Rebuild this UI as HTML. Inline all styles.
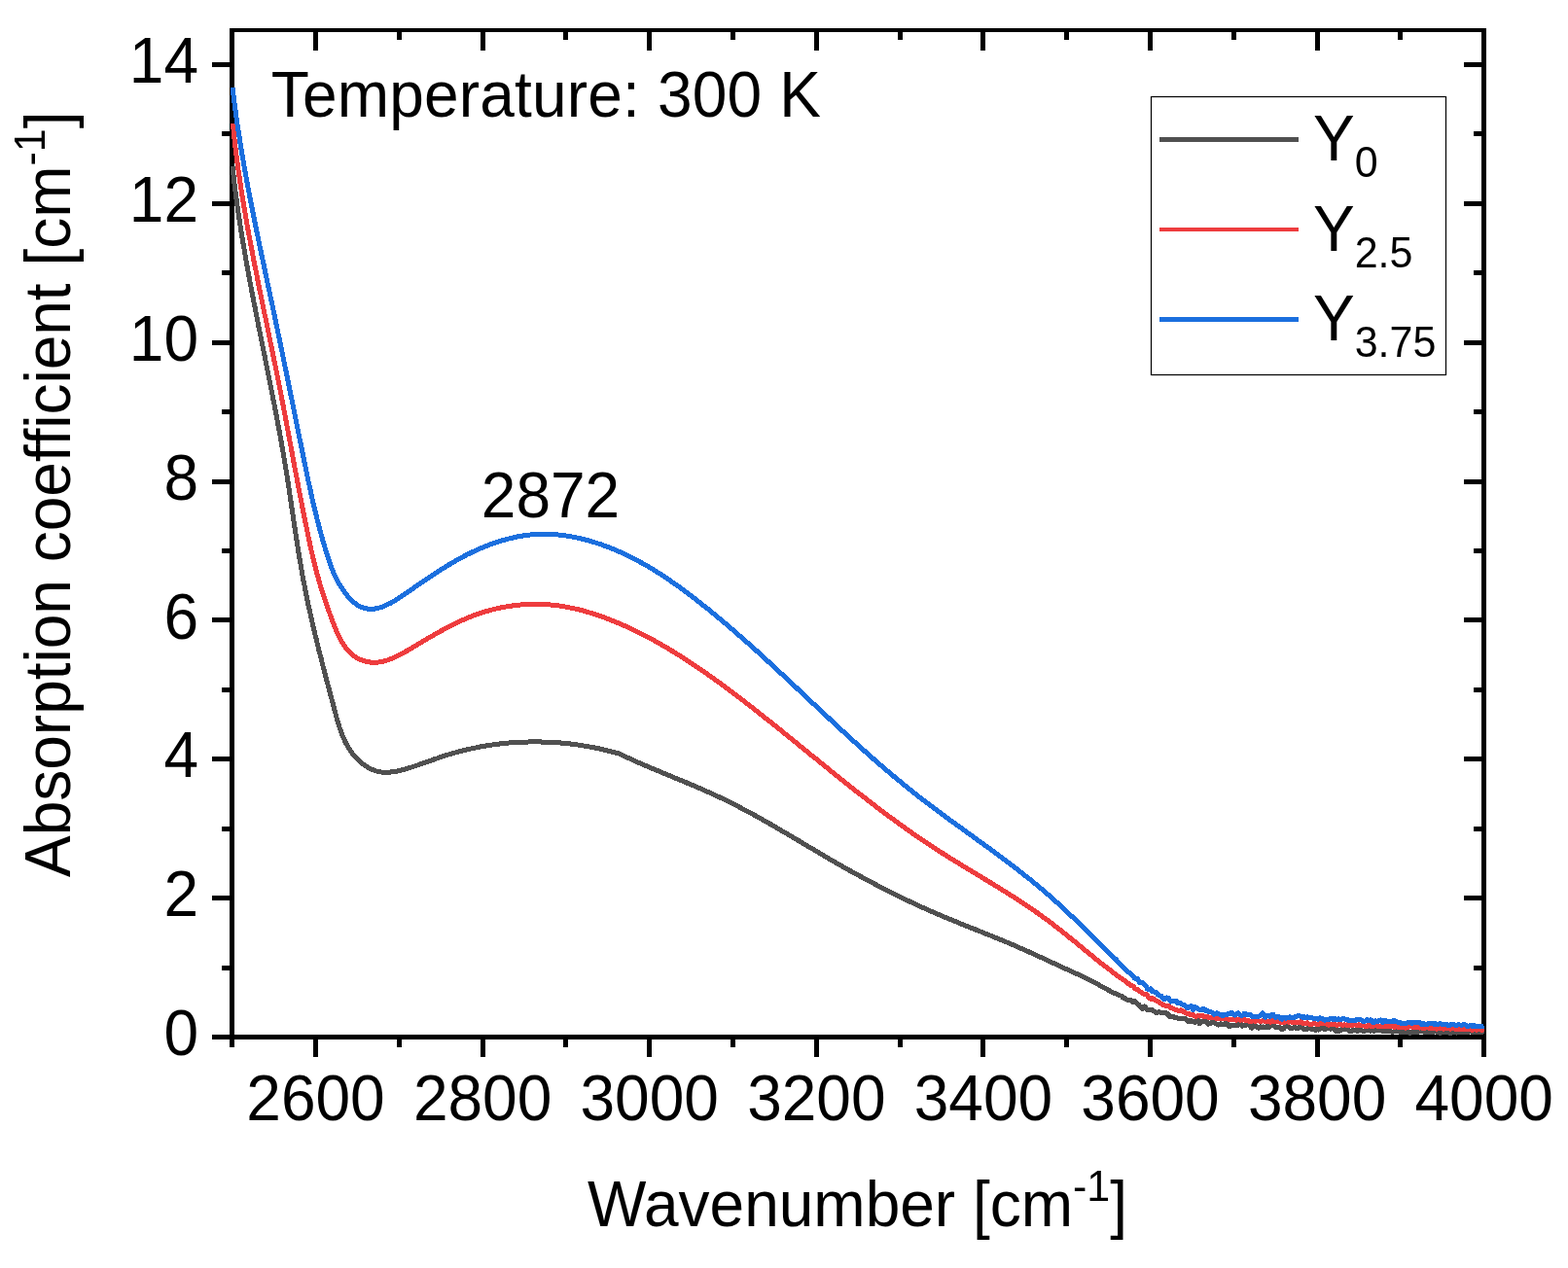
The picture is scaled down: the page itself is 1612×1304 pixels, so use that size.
<!DOCTYPE html>
<html><head><meta charset="utf-8"><title>Absorption coefficient</title>
<style>html,body{margin:0;padding:0;background:#fff;width:1612px;height:1304px;overflow:hidden}</style>
</head><body>
<svg width="1612" height="1304" viewBox="0 0 1612 1304" style="display:block;font-family:'Liberation Sans',Arial,sans-serif">
<rect width="1612" height="1304" fill="#fff"/>
<g><rect x="236.0" y="29.0" width="1292.0" height="4.0" fill="#000"/><rect x="236.0" y="1064.0" width="1292.0" height="5.0" fill="#000"/><rect x="236.0" y="29.0" width="5.0" height="1040.0" fill="#000"/><rect x="1523.0" y="29.0" width="5.0" height="1040.0" fill="#000"/><rect x="236.0" y="1069.0" width="5.0" height="8.0" fill="#000"/><rect x="236.0" y="33.0" width="5.0" height="8.0" fill="#000"/><rect x="322.0" y="1069.0" width="5.0" height="18.0" fill="#000"/><rect x="322.0" y="33.0" width="5.0" height="19.0" fill="#000"/><rect x="408.0" y="1069.0" width="5.0" height="8.0" fill="#000"/><rect x="408.0" y="33.0" width="5.0" height="8.0" fill="#000"/><rect x="494.0" y="1069.0" width="5.0" height="18.0" fill="#000"/><rect x="494.0" y="33.0" width="5.0" height="19.0" fill="#000"/><rect x="579.0" y="1069.0" width="5.0" height="8.0" fill="#000"/><rect x="579.0" y="33.0" width="5.0" height="8.0" fill="#000"/><rect x="665.0" y="1069.0" width="5.0" height="18.0" fill="#000"/><rect x="665.0" y="33.0" width="5.0" height="19.0" fill="#000"/><rect x="751.0" y="1069.0" width="5.0" height="8.0" fill="#000"/><rect x="751.0" y="33.0" width="5.0" height="8.0" fill="#000"/><rect x="837.0" y="1069.0" width="5.0" height="18.0" fill="#000"/><rect x="837.0" y="33.0" width="5.0" height="19.0" fill="#000"/><rect x="923.0" y="1069.0" width="5.0" height="8.0" fill="#000"/><rect x="923.0" y="33.0" width="5.0" height="8.0" fill="#000"/><rect x="1008.0" y="1069.0" width="5.0" height="18.0" fill="#000"/><rect x="1008.0" y="33.0" width="5.0" height="19.0" fill="#000"/><rect x="1094.0" y="1069.0" width="5.0" height="8.0" fill="#000"/><rect x="1094.0" y="33.0" width="5.0" height="8.0" fill="#000"/><rect x="1180.0" y="1069.0" width="5.0" height="18.0" fill="#000"/><rect x="1180.0" y="33.0" width="5.0" height="19.0" fill="#000"/><rect x="1266.0" y="1069.0" width="5.0" height="8.0" fill="#000"/><rect x="1266.0" y="33.0" width="5.0" height="8.0" fill="#000"/><rect x="1352.0" y="1069.0" width="5.0" height="18.0" fill="#000"/><rect x="1352.0" y="33.0" width="5.0" height="19.0" fill="#000"/><rect x="1437.0" y="1069.0" width="5.0" height="8.0" fill="#000"/><rect x="1437.0" y="33.0" width="5.0" height="8.0" fill="#000"/><rect x="1523.0" y="1069.0" width="5.0" height="18.0" fill="#000"/><rect x="1523.0" y="33.0" width="5.0" height="19.0" fill="#000"/><rect x="218.0" y="1064.0" width="18.0" height="5.0" fill="#000"/><rect x="1505.0" y="1064.0" width="18.0" height="5.0" fill="#000"/><rect x="228.0" y="993.0" width="8.0" height="5.0" fill="#000"/><rect x="1515.0" y="993.0" width="8.0" height="5.0" fill="#000"/><rect x="218.0" y="921.0" width="18.0" height="5.0" fill="#000"/><rect x="1505.0" y="921.0" width="18.0" height="5.0" fill="#000"/><rect x="228.0" y="850.0" width="8.0" height="5.0" fill="#000"/><rect x="1515.0" y="850.0" width="8.0" height="5.0" fill="#000"/><rect x="218.0" y="778.0" width="18.0" height="5.0" fill="#000"/><rect x="1505.0" y="778.0" width="18.0" height="5.0" fill="#000"/><rect x="228.0" y="707.0" width="8.0" height="5.0" fill="#000"/><rect x="1515.0" y="707.0" width="8.0" height="5.0" fill="#000"/><rect x="218.0" y="635.0" width="18.0" height="5.0" fill="#000"/><rect x="1505.0" y="635.0" width="18.0" height="5.0" fill="#000"/><rect x="228.0" y="564.0" width="8.0" height="5.0" fill="#000"/><rect x="1515.0" y="564.0" width="8.0" height="5.0" fill="#000"/><rect x="218.0" y="493.0" width="18.0" height="5.0" fill="#000"/><rect x="1505.0" y="493.0" width="18.0" height="5.0" fill="#000"/><rect x="228.0" y="421.0" width="8.0" height="5.0" fill="#000"/><rect x="1515.0" y="421.0" width="8.0" height="5.0" fill="#000"/><rect x="218.0" y="350.0" width="18.0" height="5.0" fill="#000"/><rect x="1505.0" y="350.0" width="18.0" height="5.0" fill="#000"/><rect x="228.0" y="278.0" width="8.0" height="5.0" fill="#000"/><rect x="1515.0" y="278.0" width="8.0" height="5.0" fill="#000"/><rect x="218.0" y="207.0" width="18.0" height="5.0" fill="#000"/><rect x="1505.0" y="207.0" width="18.0" height="5.0" fill="#000"/><rect x="228.0" y="135.0" width="8.0" height="5.0" fill="#000"/><rect x="1515.0" y="135.0" width="8.0" height="5.0" fill="#000"/><rect x="218.0" y="64.0" width="18.0" height="5.0" fill="#000"/><rect x="1505.0" y="64.0" width="18.0" height="5.0" fill="#000"/></g>
<g><path d="M239.0,171.0 L239.1,172.0 L239.2,173.0 L239.4,174.0 L239.5,175.0 L239.6,176.0 L239.7,177.0 L239.8,178.0 L239.9,179.0 L240.0,180.0 L240.1,181.0 L240.2,182.0 L240.3,183.0 L240.5,184.0 L240.6,185.0 L240.7,185.9 L240.8,186.9 L240.9,187.9 L241.0,188.9 L241.2,189.9 L241.3,190.9 L241.4,191.9 L241.5,192.9 L241.7,193.9 L241.8,194.9 L241.9,195.9 L242.0,196.9 L242.2,197.9 L242.3,198.9 L242.4,199.9 L242.5,200.9 L242.7,201.9 L242.8,202.8 L242.9,203.8 L243.1,204.8 L243.2,205.8 L243.3,206.8 L243.5,207.8 L243.6,208.8 L243.7,209.8 L243.9,210.8 L244.0,211.8 L244.2,212.8 L244.3,213.8 L244.4,214.7 L244.6,215.7 L244.7,216.7 L244.9,217.7 L245.0,218.7 L245.2,219.7 L245.3,220.7 L245.5,221.7 L245.6,222.7 L245.7,223.7 L245.9,224.6 L246.0,225.6 L246.2,226.6 L246.3,227.6 L246.5,228.6 L246.6,229.6 L246.8,230.6 L246.9,231.6 L247.1,232.6 L247.3,233.5 L247.4,234.5 L247.6,235.5 L247.7,236.5 L247.9,237.5 L248.0,238.5 L248.2,239.5 L248.4,240.5 L248.5,241.4 L248.7,242.4 L248.8,243.4 L249.0,244.4 L249.2,245.4 L249.3,246.4 L249.5,247.4 L249.6,248.3 L249.8,249.3 L250.0,250.3 L250.1,251.3 L250.3,252.3 L250.5,253.3 L250.6,254.3 L250.8,255.2 L251.0,256.2 L251.1,257.2 L251.3,258.2 L251.5,259.2 L251.7,260.2 L251.8,261.2 L252.0,262.1 L252.2,263.1 L252.3,264.1 L252.5,265.1 L252.7,266.1 L252.9,267.1 L253.0,268.1 L253.2,269.0 L253.4,270.0 L253.6,271.0 L253.7,272.0 L253.9,273.0 L254.1,274.0 L254.3,274.9 L254.4,275.9 L254.6,276.9 L254.8,277.9 L255.0,278.9 L255.2,279.9 L255.3,280.8 L255.5,281.8 L255.7,282.8 L255.9,283.8 L256.1,284.8 L256.2,285.8 L256.4,286.7 L256.6,287.7 L256.8,288.7 L257.0,289.7 L257.2,290.7 L257.3,291.6 L257.5,292.6 L257.7,293.6 L257.9,294.6 L258.1,295.6 L258.3,296.6 L258.5,297.5 L258.6,298.5 L258.8,299.5 L259.0,300.5 L259.2,301.5 L259.4,302.4 L259.6,303.4 L259.8,304.4 L260.0,305.4 L260.2,306.4 L260.3,307.4 L260.5,308.3 L260.7,309.3 L260.9,310.3 L261.1,311.3 L261.3,312.3 L261.5,313.2 L261.7,314.2 L261.9,315.2 L262.1,316.2 L262.3,317.2 L262.4,318.1 L262.6,319.1 L262.8,320.1 L263.0,321.1 L263.2,322.1 L263.4,323.0 L263.6,324.0 L263.8,325.0 L264.0,326.0 L264.2,327.0 L264.4,327.9 L264.6,328.9 L264.8,329.9 L265.0,330.9 L265.2,331.9 L265.4,332.9 L265.5,333.8 L265.7,334.8 L265.9,335.8 L266.1,336.8 L266.3,337.8 L266.5,338.7 L266.7,339.7 L266.9,340.7 L267.1,341.7 L267.3,342.7 L267.5,343.6 L267.7,344.6 L267.9,345.6 L268.1,346.6 L268.3,347.6 L268.5,348.5 L268.7,349.5 L268.9,350.5 L269.1,351.5 L269.3,352.5 L269.5,353.4 L269.7,354.4 L269.9,355.4 L270.1,356.4 L270.3,357.4 L270.5,358.3 L270.7,359.3 L270.9,360.3 L271.1,361.3 L271.3,362.3 L271.5,363.2 L271.7,364.2 L271.9,365.2 L272.1,366.2 L272.2,367.2 L272.4,368.1 L272.6,369.1 L272.8,370.1 L273.0,371.1 L273.2,372.1 L273.4,373.0 L273.6,374.0 L273.8,375.0 L274.0,376.0 L274.2,377.0 L274.4,377.9 L274.6,378.9 L274.8,379.9 L275.0,380.9 L275.2,381.9 L275.4,382.8 L275.6,383.8 L275.8,384.8 L276.0,385.8 L276.2,386.8 L276.4,387.7 L276.6,388.7 L276.8,389.7 L277.0,390.7 L277.2,391.7 L277.4,392.6 L277.6,393.6 L277.8,394.6 L277.9,395.6 L278.1,396.6 L278.3,397.5 L278.5,398.5 L278.7,399.5 L278.9,400.5 L279.1,401.5 L279.3,402.5 L279.5,403.4 L279.7,404.4 L279.9,405.4 L280.1,406.4 L280.3,407.4 L280.5,408.3 L280.7,409.3 L280.8,410.3 L281.0,411.3 L281.2,412.3 L281.4,413.3 L281.6,414.2 L281.8,415.2 L282.0,416.2 L282.2,417.2 L282.4,418.2 L282.6,419.1 L282.8,420.1 L282.9,421.1 L283.1,422.1 L283.3,423.1 L283.5,424.1 L283.7,425.0 L283.9,426.0 L284.1,427.0 L284.3,428.0 L284.4,429.0 L284.6,430.0 L284.8,430.9 L285.0,431.9 L285.2,432.9 L285.4,433.9 L285.6,434.9 L285.7,435.9 L285.9,436.8 L286.1,437.8 L286.3,438.8 L286.5,439.8 L286.6,440.8 L286.8,441.8 L287.0,442.7 L287.2,443.7 L287.4,444.7 L287.6,445.7 L287.7,446.7 L287.9,447.7 L288.1,448.6 L288.3,449.6 L288.4,450.6 L288.6,451.6 L288.8,452.6 L289.0,453.6 L289.2,454.6 L289.3,455.5 L289.5,456.5 L289.7,457.5 L289.9,458.5 L290.0,459.5 L290.2,460.5 L290.4,461.5 L290.5,462.4 L290.7,463.4 L290.9,464.4 L291.1,465.4 L291.2,466.4 L291.4,467.4 L291.6,468.4 L291.7,469.4 L291.9,470.3 L292.1,471.3 L292.2,472.3 L292.4,473.3 L292.6,474.3 L292.7,475.3 L292.9,476.3 L293.1,477.3 L293.2,478.2 L293.4,479.2 L293.5,480.2 L293.7,481.2 L293.9,482.2 L294.0,483.2 L294.2,484.2 L294.3,485.2 L294.5,486.2 L294.7,487.1 L294.8,488.1 L295.0,489.1 L295.1,490.1 L295.3,491.1 L295.4,492.1 L295.6,493.1 L295.8,494.1 L295.9,495.1 L296.1,496.1 L296.2,497.0 L296.4,498.0 L296.5,499.0 L296.7,500.0 L296.8,501.0 L297.0,502.0 L297.1,503.0 L297.3,504.0 L297.4,505.0 L297.6,506.0 L297.7,506.9 L297.9,507.9 L298.0,508.9 L298.2,509.9 L298.3,510.9 L298.5,511.9 L298.6,512.9 L298.8,513.9 L298.9,514.9 L299.1,515.9 L299.2,516.9 L299.4,517.9 L299.5,518.8 L299.6,519.8 L299.8,520.8 L299.9,521.8 L300.1,522.8 L300.2,523.8 L300.4,524.8 L300.5,525.8 L300.7,526.8 L300.8,527.8 L301.0,528.8 L301.1,529.7 L301.3,530.7 L301.4,531.7 L301.6,532.7 L301.7,533.7 L301.9,534.7 L302.0,535.7 L302.1,536.7 L302.3,537.7 L302.4,538.7 L302.6,539.7 L302.7,540.6 L302.9,541.6 L303.0,542.6 L303.2,543.6 L303.3,544.6 L303.5,545.6 L303.6,546.6 L303.8,547.6 L303.9,548.6 L304.1,549.6 L304.2,550.5 L304.4,551.5 L304.5,552.5 L304.7,553.5 L304.8,554.5 L305.0,555.5 L305.1,556.5 L305.3,557.5 L305.5,558.5 L305.6,559.4 L305.8,560.4 L305.9,561.4 L306.1,562.4 L306.2,563.4 L306.4,564.4 L306.5,565.4 L306.7,566.4 L306.9,567.3 L307.0,568.3 L307.2,569.3 L307.3,570.3 L307.5,571.3 L307.7,572.3 L307.8,573.3 L308.0,574.3 L308.1,575.2 L308.3,576.2 L308.5,577.2 L308.6,578.2 L308.8,579.2 L309.0,580.2 L309.1,581.1 L309.3,582.1 L309.5,583.1 L309.7,584.1 L309.8,585.1 L310.0,586.1 L310.2,587.0 L310.3,588.0 L310.5,589.0 L310.7,590.0 L310.9,591.0 L311.0,592.0 L311.2,592.9 L311.4,593.9 L311.6,594.9 L311.8,595.9 L311.9,596.9 L312.1,597.8 L312.3,598.8 L312.5,599.8 L312.7,600.8 L312.9,601.7 L313.1,602.7 L313.2,603.7 L313.4,604.7 L313.6,605.7 L313.8,606.6 L314.0,607.6 L314.2,608.6 L314.4,609.6 L314.6,610.5 L314.8,611.5 L315.0,612.5 L315.2,613.5 L315.4,614.4 L315.6,615.4 L315.8,616.4 L316.0,617.4 L316.2,618.3 L316.4,619.3 L316.6,620.3 L316.8,621.3 L317.0,622.2 L317.2,623.2 L317.5,624.2 L317.7,625.1 L317.9,626.1 L318.1,627.1 L318.3,628.1 L318.5,629.0 L318.7,630.0 L319.0,631.0 L319.2,631.9 L319.4,632.9 L319.6,633.9 L319.8,634.9 L320.0,635.8 L320.3,636.8 L320.5,637.8 L320.7,638.7 L320.9,639.7 L321.2,640.7 L321.4,641.6 L321.6,642.6 L321.8,643.6 L322.1,644.6 L322.3,645.5 L322.5,646.5 L322.7,647.5 L323.0,648.4 L323.2,649.4 L323.4,650.4 L323.7,651.3 L323.9,652.3 L324.1,653.3 L324.4,654.2 L324.6,655.2 L324.8,656.2 L325.1,657.1 L325.3,658.1 L325.5,659.1 L325.8,660.1 L326.0,661.0 L326.3,662.0 L326.5,663.0 L326.7,663.9 L327.0,664.9 L327.2,665.9 L327.5,666.8 L327.7,667.8 L327.9,668.8 L328.2,669.7 L328.4,670.7 L328.7,671.7 L328.9,672.6 L329.2,673.6 L329.4,674.6 L329.7,675.5 L329.9,676.5 L330.2,677.5 L330.4,678.5 L330.6,679.4 L330.9,680.4 L331.1,681.4 L331.4,682.3 L331.6,683.3 L331.9,684.3 L332.1,685.2 L332.4,686.2 L332.6,687.2 L332.9,688.2 L333.1,689.1 L333.4,690.1 L333.7,691.1 L333.9,692.0 L334.2,693.0 L334.4,694.0 L334.7,694.9 L334.9,695.9 L335.2,696.9 L335.4,697.9 L335.7,698.8 L335.9,699.8 L336.2,700.8 L336.4,701.7 L336.7,702.7 L337.0,703.7 L337.2,704.7 L337.5,705.6 L337.7,706.6 L338.0,707.6 L338.2,708.6 L338.5,709.5 L338.8,710.5 L339.0,711.5 L339.3,712.5 L339.5,713.4 L339.8,714.4 L340.0,715.4 L340.3,716.4 L340.6,717.3 L340.8,718.3 L341.1,719.3 L341.3,720.3 L341.6,721.3 L341.9,722.2 L342.1,723.2 L342.4,724.2 L342.6,725.2 L342.9,726.1 L343.2,727.1 L343.4,728.1 L343.7,729.1 L343.9,730.1 L344.2,731.1 L344.5,732.0 L344.7,733.0 L345.0,734.0 L345.2,735.0 L345.5,736.0 L345.8,736.9 L346.0,737.9 L346.3,738.9 L346.6,739.9 L346.9,740.8 L347.1,741.8 L347.4,742.8 L347.7,743.8 L348.0,744.7 L348.3,745.7 L348.6,746.7 L348.9,747.6 L349.2,748.6 L349.5,749.6 L349.9,750.5 L350.2,751.5 L350.5,752.4 L350.9,753.4 L351.2,754.3 L351.6,755.2 L352.0,756.2 L352.3,757.1 L352.7,758.0 L353.1,758.9 L353.5,759.9 L354.0,760.8 L354.4,761.7 L354.8,762.6 L355.3,763.5 L355.7,764.4 L356.2,765.3 L356.7,766.2 L357.2,767.0 L357.7,767.9 L358.2,768.8 L358.7,769.6 L359.3,770.5 L359.8,771.3 L360.4,772.2 L361.0,773.0 L361.6,773.8 L362.2,774.6 L362.8,775.4 L363.4,776.2 L364.0,777.0 L364.7,777.7 L365.4,778.5 L366.0,779.2 L366.7,780.0 L367.4,780.7 L368.1,781.4 L368.8,782.1 L369.5,782.8 L370.3,783.4 L371.0,784.1 L371.7,784.7 L372.5,785.3 L373.3,785.9 L374.1,786.5 L374.8,787.1 L375.6,787.6 L376.4,788.1 L377.2,788.6 L378.1,789.1 L378.9,789.6 L379.7,790.1 L380.6,790.5 L381.4,790.9 L382.3,791.3 L383.1,791.6 L384.0,792.0 L384.9,792.3 L385.8,792.6 L386.7,792.9 L387.6,793.1 L388.5,793.4 L389.4,793.6 L390.3,793.7 L391.2,793.9 L392.2,794.0 L393.1,794.1 L394.0,794.2 L395.0,794.2 L395.9,794.3 L396.9,794.3 L397.8,794.3 L398.8,794.2 L399.8,794.2 L400.7,794.1 L401.7,794.0 L402.7,793.9 L403.6,793.8 L404.6,793.7 L405.6,793.5 L406.6,793.4 L407.6,793.2 L408.6,793.0 L409.6,792.8 L410.6,792.6 L411.5,792.3 L412.5,792.1 L413.5,791.8 L414.5,791.6 L415.5,791.3 L416.5,791.0 L417.5,790.7 L418.5,790.4 L419.5,790.1 L420.5,789.8 L421.5,789.5 L422.5,789.2 L423.4,788.9 L424.4,788.5 L425.4,788.2 L426.4,787.9 L427.4,787.5 L428.4,787.2 L429.3,786.9 L430.3,786.5 L431.3,786.2 L432.2,785.9 L433.2,785.5 L434.2,785.2 L435.1,784.9 L436.1,784.5 L437.0,784.2 L438.0,783.8 L438.9,783.5 L439.9,783.2 L440.8,782.8 L441.8,782.5 L442.7,782.2 L443.7,781.8 L444.6,781.5 L445.6,781.2 L446.5,780.8 L447.5,780.5 L448.4,780.2 L449.4,779.9 L450.3,779.5 L451.3,779.2 L452.2,778.9 L453.2,778.6 L454.1,778.3 L455.1,777.9 L456.0,777.6 L456.9,777.3 L457.9,777.0 L458.8,776.7 L459.8,776.4 L460.7,776.1 L461.7,775.8 L462.7,775.5 L463.6,775.3 L464.6,775.0 L465.5,774.7 L466.5,774.4 L467.4,774.2 L468.4,773.9 L469.4,773.6 L470.3,773.4 L471.3,773.1 L472.2,772.8 L473.2,772.6 L474.2,772.3 L475.1,772.1 L476.1,771.9 L477.1,771.6 L478.0,771.4 L479.0,771.1 L480.0,770.9 L481.0,770.7 L481.9,770.5 L482.9,770.2 L483.9,770.0 L484.9,769.8 L485.8,769.6 L486.8,769.4 L487.8,769.2 L488.8,769.0 L489.7,768.8 L490.7,768.6 L491.7,768.4 L492.7,768.2 L493.7,768.0 L494.6,767.9 L495.6,767.7 L496.6,767.5 L497.6,767.3 L498.6,767.2 L499.6,767.0 L500.6,766.8 L501.5,766.7 L502.5,766.5 L503.5,766.4 L504.5,766.2 L505.5,766.1 L506.5,765.9 L507.5,765.8 L508.5,765.7 L509.5,765.5 L510.4,765.4 L511.4,765.3 L512.4,765.2 L513.4,765.0 L514.4,764.9 L515.4,764.8 L516.4,764.7 L517.4,764.6 L518.4,764.5 L519.4,764.4 L520.4,764.3 L521.4,764.2 L522.4,764.1 L523.4,764.0 L524.4,763.9 L525.4,763.9 L526.4,763.8 L527.4,763.7 L528.4,763.6 L529.4,763.6 L530.4,763.5 L531.4,763.4 L532.4,763.4 L533.4,763.3 L534.4,763.3 L535.4,763.2 L536.4,763.2 L537.4,763.1 L538.4,763.1 L539.4,763.1 L540.4,763.0 L541.4,763.0 L542.4,763.0 L543.4,763.0 L544.4,762.9 L545.4,762.9 L546.4,762.9 L547.4,762.9 L548.4,762.9 L549.4,762.9 L550.4,762.9 L551.4,762.9 L552.4,762.9 L553.4,762.9 L554.4,762.9 L555.4,762.9 L556.4,763.0 L557.4,763.0 L558.4,763.0 L559.4,763.0 L560.4,763.1 L561.4,763.1 L562.4,763.1 L563.4,763.2 L564.4,763.2 L565.4,763.3 L566.4,763.3 L567.4,763.4 L568.4,763.4 L569.4,763.5 L570.4,763.6 L571.4,763.6 L572.4,763.7 L573.4,763.8 L574.4,763.9 L575.4,763.9 L576.4,764.0 L577.4,764.1 L578.3,764.2 L579.3,764.3 L580.3,764.4 L581.3,764.5 L582.3,764.6 L583.3,764.7 L584.3,764.8 L585.3,764.9 L586.3,765.0 L587.3,765.1 L588.3,765.3 L589.3,765.4 L590.3,765.5 L591.3,765.6 L592.3,765.8 L593.3,765.9 L594.2,766.0 L595.2,766.2 L596.2,766.3 L597.2,766.5 L598.2,766.6 L599.2,766.8 L600.2,767.0 L601.2,767.1 L602.1,767.3 L603.1,767.4 L604.1,767.6 L605.1,767.8 L606.1,768.0 L607.1,768.2 L608.0,768.3 L609.0,768.5 L610.0,768.7 L611.0,768.9 L612.0,769.1 L612.9,769.3 L613.9,769.5 L614.9,769.7 L615.9,769.9 L616.8,770.1 L617.8,770.4 L618.8,770.6 L619.8,770.8 L620.7,771.0 L621.7,771.2 L622.7,771.5 L623.6,771.7 L624.6,772.0 L625.6,772.2 L626.5,772.4 L627.5,772.7 L628.5,772.9 L629.4,773.2 L630.4,773.4 L631.4,773.7 L632.3,774.0 L633.3,774.2 L634.2,774.5 L635.2,774.8 L636.2,774.9 L637.1,775.4 L638.0,775.8 L638.9,776.2 L639.8,776.6 L640.7,777.1 L641.6,777.5 L642.5,777.9 L643.4,778.3 L644.3,778.8 L645.2,779.2 L646.1,779.6 L647.0,780.0 L648.0,780.4 L648.9,780.8 L649.8,781.3 L650.7,781.7 L651.6,782.1 L652.5,782.5 L653.4,782.9 L654.3,783.3 L655.2,783.7 L656.1,784.1 L657.1,784.5 L658.0,784.9 L658.9,785.3 L659.8,785.7 L660.7,786.1 L661.6,786.5 L662.6,786.9 L663.5,787.3 L664.4,787.7 L665.3,788.1 L666.2,788.5 L667.2,788.9 L668.1,789.3 L669.0,789.6 L669.9,790.0 L670.8,790.4 L671.8,790.8 L672.7,791.2 L673.6,791.6 L674.5,792.0 L675.5,792.4 L676.4,792.7 L677.3,793.1 L678.2,793.5 L679.2,793.9 L680.1,794.3 L681.0,794.7 L681.9,795.1 L682.9,795.4 L683.8,795.8 L684.7,796.2 L685.6,796.6 L686.6,797.0 L687.5,797.3 L688.4,797.7 L689.3,798.1 L690.3,798.5 L691.2,798.9 L692.1,799.3 L693.0,799.6 L694.0,800.0 L694.9,800.4 L695.8,800.8 L696.7,801.2 L697.7,801.6 L698.6,801.9 L699.5,802.3 L700.5,802.7 L701.4,803.1 L702.3,803.5 L703.2,803.9 L704.2,804.2 L705.1,804.6 L706.0,805.0 L706.9,805.4 L707.9,805.8 L708.8,806.2 L709.7,806.6 L710.6,807.0 L711.5,807.3 L712.5,807.7 L713.4,808.1 L714.3,808.5 L715.2,808.9 L716.2,809.3 L717.1,809.7 L718.0,810.1 L718.9,810.5 L719.8,810.9 L720.7,811.3 L721.7,811.7 L722.6,812.1 L723.5,812.5 L724.4,812.9 L725.3,813.3 L726.2,813.7 L727.2,814.1 L728.1,814.5 L729.0,814.9 L729.9,815.3 L730.8,815.8 L731.7,816.2 L732.6,816.6 L733.5,817.0 L734.5,817.4 L735.4,817.8 L736.3,818.3 L737.2,818.7 L738.1,819.1 L739.0,819.5 L739.9,820.0 L740.8,820.4 L741.7,820.8 L742.6,821.2 L743.5,821.7 L744.4,822.1 L745.3,822.6 L746.2,823.0 L747.1,823.4 L748.0,823.9 L748.9,824.3 L749.8,824.8 L750.7,825.2 L751.6,825.7 L752.5,826.1 L753.3,826.6 L754.2,827.0 L755.1,827.5 L756.0,827.9 L756.9,828.4 L757.8,828.8 L758.7,829.3 L759.6,829.7 L760.4,830.2 L761.3,830.7 L762.2,831.1 L763.1,831.6 L764.0,832.1 L764.9,832.5 L765.7,833.0 L766.6,833.5 L767.5,833.9 L768.4,834.4 L769.3,834.9 L770.1,835.4 L771.0,835.8 L771.9,836.3 L772.8,836.8 L773.7,837.3 L774.5,837.8 L775.4,838.2 L776.3,838.7 L777.2,839.2 L778.0,839.7 L778.9,840.2 L779.8,840.7 L780.7,841.1 L781.5,841.6 L782.4,842.1 L783.3,842.6 L784.1,843.1 L785.0,843.6 L785.9,844.1 L786.7,844.6 L787.6,845.1 L788.5,845.6 L789.4,846.1 L790.2,846.6 L791.1,847.0 L792.0,847.5 L792.8,848.0 L793.7,848.5 L794.6,849.0 L795.4,849.5 L796.3,850.0 L797.1,850.5 L798.0,851.0 L798.9,851.5 L799.7,852.0 L800.6,852.6 L801.5,853.1 L802.3,853.6 L803.2,854.1 L804.1,854.6 L804.9,855.1 L805.8,855.6 L806.6,856.1 L807.5,856.6 L808.4,857.1 L809.2,857.6 L810.1,858.1 L810.9,858.6 L811.8,859.1 L812.7,859.6 L813.5,860.2 L814.4,860.7 L815.3,861.2 L816.1,861.7 L817.0,862.2 L817.8,862.7 L818.7,863.2 L819.6,863.7 L820.4,864.2 L821.3,864.7 L822.1,865.3 L823.0,865.8 L823.9,866.3 L824.7,866.8 L825.6,867.3 L826.4,867.8 L827.3,868.3 L828.2,868.8 L829.0,869.3 L829.9,869.9 L830.7,870.4 L831.6,870.9 L832.4,871.4 L833.3,871.9 L834.2,872.4 L835.0,872.9 L835.9,873.4 L836.8,873.9 L837.6,874.5 L838.5,875.0 L839.3,875.5 L840.2,876.0 L841.1,876.5 L841.9,877.0 L842.8,877.5 L843.6,878.0 L844.5,878.5 L845.4,879.0 L846.2,879.5 L847.1,880.0 L847.9,880.6 L848.8,881.1 L849.7,881.6 L850.5,882.1 L851.4,882.6 L852.3,883.1 L853.1,883.6 L854.0,884.1 L854.9,884.6 L855.7,885.1 L856.6,885.6 L857.5,886.1 L858.3,886.6 L859.2,887.1 L860.1,887.6 L860.9,888.1 L861.8,888.6 L862.7,889.1 L863.5,889.6 L864.4,890.1 L865.3,890.6 L866.1,891.1 L867.0,891.6 L867.9,892.1 L868.7,892.5 L869.6,893.0 L870.5,893.5 L871.3,894.0 L872.2,894.5 L873.1,895.0 L874.0,895.5 L874.8,896.0 L875.7,896.5 L876.6,896.9 L877.5,897.4 L878.3,897.9 L879.2,898.4 L880.1,898.9 L881.0,899.4 L881.8,899.8 L882.7,900.3 L883.6,900.8 L884.5,901.3 L885.3,901.7 L886.2,902.2 L887.1,902.7 L888.0,903.2 L888.9,903.6 L889.7,904.1 L890.6,904.6 L891.5,905.1 L892.4,905.5 L893.3,906.0 L894.2,906.5 L895.0,906.9 L895.9,907.4 L896.8,907.9 L897.7,908.3 L898.6,908.8 L899.5,909.3 L900.3,909.7 L901.2,910.2 L902.1,910.7 L903.0,911.1 L903.9,911.6 L904.8,912.0 L905.7,912.5 L906.5,912.9 L907.4,913.4 L908.3,913.9 L909.2,914.3 L910.1,914.8 L911.0,915.2 L911.9,915.7 L912.8,916.1 L913.7,916.6 L914.6,917.0 L915.5,917.5 L916.3,917.9 L917.2,918.4 L918.1,918.8 L919.0,919.3 L919.9,919.7 L920.8,920.1 L921.7,920.6 L922.6,921.0 L923.5,921.5 L924.4,921.9 L925.3,922.3 L926.2,922.8 L927.1,923.2 L928.0,923.6 L928.9,924.1 L929.8,924.5 L930.7,924.9 L931.6,925.4 L932.5,925.8 L933.4,926.2 L934.3,926.7 L935.2,927.1 L936.1,927.5 L937.0,927.9 L937.9,928.4 L938.8,928.8 L939.7,929.2 L940.6,929.6 L941.5,930.1 L942.4,930.5 L943.3,930.9 L944.3,931.3 L945.2,931.7 L946.1,932.1 L947.0,932.6 L947.9,933.0 L948.8,933.4 L949.7,933.8 L950.6,934.2 L951.5,934.6 L952.4,935.0 L953.3,935.4 L954.3,935.8 L955.2,936.3 L956.1,936.7 L957.0,937.1 L957.9,937.5 L958.8,937.9 L959.7,938.3 L960.7,938.7 L961.6,939.1 L962.5,939.5 L963.4,939.9 L964.3,940.2 L965.2,940.6 L966.2,941.0 L967.1,941.4 L968.0,941.8 L968.9,942.2 L969.8,942.6 L970.8,943.0 L971.7,943.4 L972.6,943.8 L973.5,944.1 L974.5,944.5 L975.4,944.9 L976.3,945.3 L977.2,945.7 L978.1,946.0 L979.1,946.4 L980.0,946.8 L980.9,947.2 L981.9,947.6 L982.8,947.9 L983.7,948.3 L984.6,948.7 L985.6,949.1 L986.5,949.4 L987.4,949.8 L988.3,950.2 L989.3,950.6 L990.2,950.9 L991.1,951.3 L992.1,951.7 L993.0,952.0 L993.9,952.4 L994.8,952.8 L995.8,953.2 L996.7,953.5 L997.6,953.9 L998.6,954.3 L999.5,954.6 L1000.4,955.0 L1001.3,955.4 L1002.3,955.7 L1003.2,956.1 L1004.1,956.5 L1005.1,956.8 L1006.0,957.2 L1006.9,957.6 L1007.9,958.0 L1008.8,958.3 L1009.7,958.7 L1010.6,959.1 L1011.6,959.4 L1012.5,959.8 L1013.4,960.2 L1014.4,960.5 L1015.3,960.9 L1016.2,961.3 L1017.1,961.7 L1018.1,962.0 L1019.0,962.4 L1019.9,962.8 L1020.8,963.2 L1021.8,963.5 L1022.7,963.9 L1023.6,964.3 L1024.6,964.7 L1025.5,965.0 L1026.4,965.4 L1027.3,965.8 L1028.3,966.2 L1029.2,966.6 L1030.1,966.9 L1031.0,967.3 L1031.9,967.7 L1032.9,968.1 L1033.8,968.5 L1034.7,968.9 L1035.6,969.2 L1036.6,969.6 L1037.5,970.0 L1038.4,970.4 L1039.3,970.8 L1040.2,971.2 L1041.2,971.6 L1042.1,972.0 L1043.0,972.4 L1043.9,972.8 L1044.8,973.2 L1045.7,973.6 L1046.7,974.0 L1047.6,974.4 L1048.5,974.8 L1049.4,975.2 L1050.3,975.6 L1051.2,976.0 L1052.1,976.4 L1053.1,976.8 L1054.0,977.2 L1054.9,977.6 L1055.8,978.0 L1056.7,978.4 L1057.6,978.8 L1058.5,979.3 L1059.4,979.7 L1060.3,980.1 L1061.3,980.5 L1062.2,980.9 L1063.1,981.3 L1064.0,981.7 L1064.9,982.1 L1065.8,982.6 L1066.7,983.0 L1067.6,983.4 L1068.5,983.8 L1069.4,984.2 L1070.3,984.6 L1071.3,985.1 L1072.2,985.5 L1073.1,985.9 L1074.0,986.3 L1074.9,986.7 L1075.8,987.1 L1076.7,987.6 L1077.6,988.0 L1078.5,988.4 L1079.4,988.8 L1080.3,989.2 L1081.2,989.7 L1082.1,990.1 L1083.0,990.5 L1084.0,990.9 L1084.9,991.3 L1085.8,991.8 L1086.7,992.2 L1087.6,992.6 L1088.5,993.0 L1089.4,993.4 L1090.3,993.9 L1091.2,994.3 L1092.1,994.7 L1093.0,995.1 L1093.9,995.5 L1094.8,996.0 L1095.8,996.4 L1096.7,996.8 L1097.6,997.2 L1098.5,997.6 L1099.4,998.1 L1100.3,998.5 L1101.2,998.9 L1102.1,999.3 L1103.0,999.7 L1103.9,1000.1 L1104.8,1000.6 L1105.7,1001.0 L1106.7,1001.4 L1107.6,1001.8 L1108.5,1002.2 L1109.4,1002.7 L1110.3,1003.1 L1111.2,1003.5 L1112.1,1003.9 L1113.0,1004.3 L1113.9,1004.8 L1114.8,1005.2 L1115.7,1005.6 L1116.6,1006.1 L1117.5,1006.5 L1118.4,1006.9 L1119.3,1007.4 L1120.2,1007.8 L1121.0,1008.3 L1121.9,1008.7 L1122.8,1009.2 L1123.7,1009.6 L1124.6,1010.1 L1125.5,1010.5 L1126.3,1011.0 L1127.2,1011.5 L1128.1,1011.9 L1128.9,1012.4 L1129.8,1012.9 L1130.7,1013.4 L1131.5,1013.9 L1132.4,1014.3 L1133.2,1014.8 L1134.1,1015.3 L1135.0,1015.8 L1135.8,1016.3 L1136.7,1016.8 L1137.5,1017.2 L1138.4,1017.7 L1139.3,1018.2 L1140.1,1018.5 L1141.0,1018.9 L1141.9,1019.6 L1142.7,1020.3 L1143.6,1020.6 L1144.5,1021.2 L1145.4,1021.7 L1146.3,1021.7 L1147.1,1021.8 L1148.0,1022.3 L1148.9,1022.8 L1149.8,1023.3 L1150.7,1023.8 L1151.6,1024.0 L1152.5,1024.0 L1153.4,1024.7 L1154.3,1025.9 L1155.2,1026.3 L1156.1,1026.5 L1157.0,1026.9 L1157.9,1027.5 L1158.8,1028.2 L1159.7,1028.5 L1160.6,1028.3 L1161.5,1028.2 L1162.4,1028.4 L1163.4,1029.3 L1164.3,1030.4 L1165.2,1030.0 L1166.1,1029.5 L1167.0,1030.2 L1167.9,1031.3 L1168.9,1031.9 L1169.8,1032.4 L1170.7,1033.2 L1171.6,1034.2 L1172.6,1035.4 L1173.5,1036.8 L1174.4,1037.4 L1175.4,1036.3 L1176.3,1034.9 L1177.2,1035.1 L1178.2,1036.8 L1179.1,1038.1 L1180.0,1038.3 L1181.0,1038.1 L1181.9,1038.0 L1182.8,1038.4 L1183.8,1038.8 L1184.7,1038.8 L1185.7,1039.7 L1186.6,1040.2 L1187.6,1040.2 L1188.5,1041.2 L1189.5,1041.8 L1190.4,1041.2 L1191.3,1040.8 L1192.3,1040.8 L1193.2,1041.1 L1194.2,1041.6 L1195.2,1041.8 L1196.1,1041.8 L1197.1,1041.5 L1198.0,1041.3 L1199.0,1042.2 L1199.9,1043.1 L1200.9,1042.9 L1201.9,1043.9 L1202.8,1045.9 L1203.8,1045.9 L1204.7,1045.1 L1205.7,1045.2 L1206.7,1045.9 L1207.6,1046.5 L1208.6,1046.2 L1209.6,1046.6 L1210.5,1047.2 L1211.5,1047.1 L1212.5,1047.3 L1213.4,1047.1 L1214.4,1047.1 L1215.4,1047.4 L1216.4,1047.7 L1217.3,1048.0 L1218.3,1047.8 L1219.3,1047.9 L1220.3,1049.1 L1221.2,1050.1 L1222.2,1050.7 L1223.2,1050.2 L1224.2,1049.3 L1225.1,1050.4 L1226.1,1050.9 L1227.1,1050.3 L1228.1,1051.1 L1229.1,1051.4 L1230.1,1049.9 L1231.0,1049.1 L1232.0,1050.9 L1233.0,1052.8 L1234.0,1051.7 L1235.0,1050.1 L1236.0,1050.2 L1237.0,1050.3 L1237.9,1050.8 L1238.9,1050.6 L1239.9,1050.0 L1240.9,1051.7 L1241.9,1053.1 L1242.9,1052.3 L1243.9,1052.2 L1244.9,1052.5 L1245.9,1051.4 L1246.8,1050.6 L1247.8,1051.1 L1248.8,1052.2 L1249.8,1053.0 L1250.8,1053.2 L1251.8,1053.7 L1252.8,1054.1 L1253.8,1053.6 L1254.8,1052.8 L1255.8,1053.4 L1256.8,1053.9 L1257.8,1053.2 L1258.8,1052.9 L1259.8,1053.2 L1260.8,1053.1 L1261.8,1052.5 L1262.8,1053.5 L1263.8,1055.8 L1264.8,1055.5 L1265.8,1054.0 L1266.8,1054.2 L1267.8,1054.6 L1268.8,1054.6 L1269.8,1054.5 L1270.8,1054.1 L1271.8,1054.0 L1272.8,1054.2 L1273.8,1053.4 L1274.8,1052.7 L1275.8,1054.0 L1276.8,1055.2 L1277.8,1055.0 L1278.8,1054.5 L1279.8,1054.9 L1280.8,1054.6 L1281.8,1053.0 L1282.8,1053.0 L1283.8,1054.3 L1284.8,1055.0 L1285.8,1056.4 L1286.8,1057.1 L1287.8,1055.4 L1288.8,1054.6 L1289.8,1055.4 L1290.8,1055.5 L1291.8,1055.4 L1292.8,1056.4 L1293.8,1057.1 L1294.8,1056.3 L1295.8,1055.9 L1296.8,1056.5 L1297.8,1056.3 L1298.8,1056.0 L1299.8,1056.8 L1300.8,1056.6 L1301.8,1055.9 L1302.8,1055.8 L1303.8,1056.5 L1304.8,1056.7 L1305.8,1055.3 L1306.8,1054.4 L1307.8,1054.7 L1308.8,1054.8 L1309.8,1055.2 L1310.8,1055.9 L1311.8,1056.7 L1312.8,1056.9 L1313.8,1056.3 L1314.8,1056.1 L1315.8,1056.7 L1316.8,1058.2 L1317.8,1059.0 L1318.8,1058.3 L1319.8,1057.8 L1320.8,1056.3 L1321.8,1054.9 L1322.8,1054.7 L1323.8,1054.9 L1324.8,1055.5 L1325.8,1056.8 L1326.8,1057.9 L1327.8,1058.0 L1328.8,1057.4 L1329.8,1056.7 L1330.8,1056.4 L1331.8,1056.9 L1332.8,1057.4 L1333.8,1057.6 L1334.8,1057.5 L1335.8,1056.7 L1336.8,1055.6 L1337.8,1055.6 L1338.8,1057.0 L1339.8,1058.2 L1340.8,1058.0 L1341.8,1058.3 L1342.8,1058.9 L1343.8,1058.2 L1344.8,1057.4 L1345.8,1057.0 L1346.8,1057.0 L1347.8,1058.0 L1348.8,1058.8 L1349.8,1058.8 L1350.8,1058.8 L1351.8,1059.3 L1352.8,1059.3 L1353.8,1058.3 L1354.8,1058.1 L1355.8,1059.0 L1356.8,1058.3 L1357.8,1056.8 L1358.8,1057.0 L1359.8,1057.6 L1360.8,1057.8 L1361.8,1058.6 L1362.8,1058.6 L1363.8,1057.6 L1364.8,1056.8 L1365.8,1056.7 L1366.8,1057.5 L1367.8,1058.1 L1368.8,1057.2 L1369.8,1056.4 L1370.8,1056.8 L1371.8,1058.3 L1372.8,1060.3 L1373.8,1060.7 L1374.8,1059.5 L1375.8,1059.7 L1376.8,1060.4 L1377.8,1060.0 L1378.8,1058.8 L1379.8,1057.9 L1380.8,1057.7 L1381.8,1057.8 L1382.8,1058.8 L1383.8,1059.0 L1384.8,1058.2 L1385.8,1058.6 L1386.8,1059.7 L1387.8,1060.5 L1388.8,1060.7 L1389.8,1059.9 L1390.8,1059.0 L1391.8,1059.3 L1392.8,1059.8 L1393.8,1059.4 L1394.8,1059.7 L1395.8,1060.4 L1396.8,1059.6 L1397.8,1058.7 L1398.7,1059.2 L1399.7,1059.8 L1400.7,1060.0 L1401.7,1060.6 L1402.7,1060.6 L1403.7,1059.6 L1404.7,1059.2 L1405.7,1059.2 L1406.7,1059.2 L1407.7,1059.7 L1408.7,1060.1 L1409.7,1060.1 L1410.7,1059.6 L1411.7,1059.8 L1412.7,1060.5 L1413.7,1059.9 L1414.7,1059.3 L1415.7,1059.4 L1416.7,1059.5 L1417.7,1059.5 L1418.7,1059.7 L1419.7,1059.7 L1420.7,1059.9 L1421.7,1060.5 L1422.7,1060.9 L1423.7,1060.5 L1424.7,1060.1 L1425.7,1060.3 L1426.7,1060.4 L1427.7,1059.8 L1428.7,1059.6 L1429.7,1060.3 L1430.7,1061.0 L1431.7,1061.5 L1432.7,1061.0 L1433.7,1059.8 L1434.7,1059.8 L1435.7,1060.6 L1436.7,1060.6 L1437.7,1060.7 L1438.7,1061.2 L1439.7,1061.7 L1440.7,1061.7 L1441.7,1061.9 L1442.7,1061.7 L1443.7,1060.8 L1444.7,1060.9 L1445.7,1061.5 L1446.7,1061.0 L1447.7,1060.7 L1448.7,1061.9 L1449.7,1062.5 L1450.7,1061.9 L1451.6,1061.6 L1452.6,1061.6 L1453.6,1061.6 L1454.6,1061.5 L1455.6,1061.7 L1456.6,1061.6 L1457.6,1061.2 L1458.6,1061.0 L1459.6,1060.6 L1460.6,1060.2 L1461.6,1060.4 L1462.6,1060.6 L1463.6,1060.8 L1464.6,1061.3 L1465.6,1061.7 L1466.6,1061.5 L1467.6,1061.1 L1468.6,1061.2 L1469.6,1061.6 L1470.6,1061.7 L1471.6,1061.2 L1472.6,1060.9 L1473.6,1061.1 L1474.6,1061.1 L1475.6,1060.9 L1476.6,1061.2 L1477.6,1061.5 L1478.6,1061.5 L1479.6,1062.1 L1480.6,1062.7 L1481.6,1062.0 L1482.6,1061.1 L1483.6,1061.5 L1484.6,1061.9 L1485.6,1061.4 L1486.6,1061.1 L1487.6,1061.2 L1488.6,1061.4 L1489.6,1062.0 L1490.6,1062.7 L1491.6,1062.6 L1492.6,1061.5 L1493.6,1061.0 L1494.6,1061.8 L1495.6,1062.0 L1496.6,1061.8 L1497.7,1062.1 L1498.7,1061.8 L1499.7,1061.1 L1500.7,1061.1 L1501.7,1061.3 L1502.7,1061.4 L1503.7,1061.5 L1504.7,1061.3 L1505.7,1061.4 L1506.7,1061.7 L1507.7,1061.6 L1508.7,1061.4 L1509.7,1061.4 L1510.7,1061.1 L1511.7,1060.9 L1512.7,1061.1 L1513.7,1061.2 L1514.7,1061.1 L1515.7,1061.2 L1516.7,1061.6 L1517.7,1061.5 L1518.7,1061.1 L1519.7,1061.2 L1520.7,1061.6 L1521.7,1062.0 L1522.7,1061.8 L1523.7,1061.3 L1524.7,1061.4 L1525.7,1061.5" fill="none" stroke="#505050" stroke-width="5" stroke-linejoin="round" stroke-linecap="butt" shape-rendering="crispEdges"/><path d="M239.4,127.0 L239.5,128.0 L239.6,129.0 L239.7,130.0 L239.8,131.0 L239.8,132.0 L240.0,133.0 L240.1,134.0 L240.2,135.0 L240.3,136.0 L240.4,137.0 L240.5,138.0 L240.6,139.0 L240.7,140.0 L240.8,141.0 L240.9,142.0 L241.0,143.0 L241.1,144.0 L241.2,145.0 L241.3,145.9 L241.5,146.9 L241.6,147.9 L241.7,148.9 L241.8,149.9 L241.9,150.9 L242.0,151.9 L242.2,152.9 L242.3,153.9 L242.4,154.9 L242.5,155.9 L242.7,156.9 L242.8,157.9 L242.9,158.9 L243.0,159.8 L243.2,160.8 L243.3,161.8 L243.4,162.8 L243.5,163.8 L243.7,164.8 L243.8,165.8 L243.9,166.8 L244.1,167.8 L244.2,168.8 L244.3,169.8 L244.5,170.7 L244.6,171.7 L244.7,172.7 L244.9,173.7 L245.0,174.7 L245.2,175.7 L245.3,176.7 L245.4,177.7 L245.6,178.7 L245.7,179.7 L245.9,180.6 L246.0,181.6 L246.2,182.6 L246.3,183.6 L246.4,184.6 L246.6,185.6 L246.7,186.6 L246.9,187.6 L247.0,188.6 L247.2,189.5 L247.3,190.5 L247.5,191.5 L247.6,192.5 L247.8,193.5 L247.9,194.5 L248.1,195.5 L248.2,196.5 L248.4,197.5 L248.6,198.4 L248.7,199.4 L248.9,200.4 L249.0,201.4 L249.2,202.4 L249.3,203.4 L249.5,204.4 L249.7,205.3 L249.8,206.3 L250.0,207.3 L250.2,208.3 L250.3,209.3 L250.5,210.3 L250.6,211.3 L250.8,212.3 L251.0,213.2 L251.1,214.2 L251.3,215.2 L251.5,216.2 L251.6,217.2 L251.8,218.2 L252.0,219.2 L252.1,220.1 L252.3,221.1 L252.5,222.1 L252.7,223.1 L252.8,224.1 L253.0,225.1 L253.2,226.0 L253.3,227.0 L253.5,228.0 L253.7,229.0 L253.9,230.0 L254.0,231.0 L254.2,232.0 L254.4,232.9 L254.6,233.9 L254.8,234.9 L254.9,235.9 L255.1,236.9 L255.3,237.9 L255.5,238.8 L255.6,239.8 L255.8,240.8 L256.0,241.8 L256.2,242.8 L256.4,243.8 L256.6,244.7 L256.7,245.7 L256.9,246.7 L257.1,247.7 L257.3,248.7 L257.5,249.7 L257.7,250.6 L257.8,251.6 L258.0,252.6 L258.2,253.6 L258.4,254.6 L258.6,255.6 L258.8,256.5 L259.0,257.5 L259.1,258.5 L259.3,259.5 L259.5,260.5 L259.7,261.5 L259.9,262.4 L260.1,263.4 L260.3,264.4 L260.5,265.4 L260.7,266.4 L260.9,267.3 L261.0,268.3 L261.2,269.3 L261.4,270.3 L261.6,271.3 L261.8,272.3 L262.0,273.2 L262.2,274.2 L262.4,275.2 L262.6,276.2 L262.8,277.2 L263.0,278.1 L263.2,279.1 L263.4,280.1 L263.6,281.1 L263.8,282.1 L264.0,283.0 L264.1,284.0 L264.3,285.0 L264.5,286.0 L264.7,287.0 L264.9,288.0 L265.1,288.9 L265.3,289.9 L265.5,290.9 L265.7,291.9 L265.9,292.9 L266.1,293.8 L266.3,294.8 L266.5,295.8 L266.7,296.8 L266.9,297.8 L267.1,298.7 L267.3,299.7 L267.5,300.7 L267.7,301.7 L267.9,302.7 L268.1,303.6 L268.3,304.6 L268.5,305.6 L268.7,306.6 L268.9,307.6 L269.1,308.5 L269.3,309.5 L269.5,310.5 L269.7,311.5 L269.9,312.5 L270.1,313.4 L270.3,314.4 L270.5,315.4 L270.7,316.4 L270.9,317.4 L271.1,318.4 L271.3,319.3 L271.5,320.3 L271.7,321.3 L271.9,322.3 L272.1,323.3 L272.3,324.2 L272.5,325.2 L272.8,326.2 L273.0,327.2 L273.2,328.2 L273.4,329.1 L273.6,330.1 L273.8,331.1 L274.0,332.1 L274.2,333.1 L274.4,334.0 L274.6,335.0 L274.8,336.0 L275.0,337.0 L275.2,338.0 L275.4,338.9 L275.6,339.9 L275.8,340.9 L276.0,341.9 L276.2,342.9 L276.4,343.8 L276.6,344.8 L276.8,345.8 L277.0,346.8 L277.2,347.8 L277.4,348.7 L277.6,349.7 L277.8,350.7 L278.0,351.7 L278.2,352.7 L278.4,353.6 L278.6,354.6 L278.8,355.6 L279.0,356.6 L279.2,357.6 L279.4,358.5 L279.6,359.5 L279.8,360.5 L280.0,361.5 L280.2,362.5 L280.4,363.4 L280.6,364.4 L280.8,365.4 L281.0,366.4 L281.2,367.4 L281.4,368.3 L281.6,369.3 L281.8,370.3 L282.0,371.3 L282.2,372.3 L282.4,373.2 L282.6,374.2 L282.8,375.2 L283.0,376.2 L283.2,377.2 L283.4,378.1 L283.6,379.1 L283.8,380.1 L284.0,381.1 L284.2,382.1 L284.4,383.0 L284.6,384.0 L284.8,385.0 L285.0,386.0 L285.2,387.0 L285.4,387.9 L285.6,388.9 L285.8,389.9 L286.0,390.9 L286.2,391.9 L286.4,392.9 L286.6,393.8 L286.8,394.8 L287.0,395.8 L287.2,396.8 L287.3,397.8 L287.5,398.7 L287.7,399.7 L287.9,400.7 L288.1,401.7 L288.3,402.7 L288.5,403.6 L288.7,404.6 L288.9,405.6 L289.1,406.6 L289.3,407.6 L289.5,408.6 L289.6,409.5 L289.8,410.5 L290.0,411.5 L290.2,412.5 L290.4,413.5 L290.6,414.4 L290.8,415.4 L291.0,416.4 L291.2,417.4 L291.3,418.4 L291.5,419.4 L291.7,420.3 L291.9,421.3 L292.1,422.3 L292.3,423.3 L292.5,424.3 L292.6,425.3 L292.8,426.2 L293.0,427.2 L293.2,428.2 L293.4,429.2 L293.6,430.2 L293.8,431.1 L293.9,432.1 L294.1,433.1 L294.3,434.1 L294.5,435.1 L294.7,436.1 L294.9,437.0 L295.0,438.0 L295.2,439.0 L295.4,440.0 L295.6,441.0 L295.8,442.0 L296.0,442.9 L296.1,443.9 L296.3,444.9 L296.5,445.9 L296.7,446.9 L296.9,447.9 L297.1,448.8 L297.2,449.8 L297.4,450.8 L297.6,451.8 L297.8,452.8 L298.0,453.8 L298.2,454.7 L298.3,455.7 L298.5,456.7 L298.7,457.7 L298.9,458.7 L299.1,459.6 L299.3,460.6 L299.4,461.6 L299.6,462.6 L299.8,463.6 L300.0,464.6 L300.2,465.5 L300.4,466.5 L300.5,467.5 L300.7,468.5 L300.9,469.5 L301.1,470.5 L301.3,471.4 L301.5,472.4 L301.6,473.4 L301.8,474.4 L302.0,475.4 L302.2,476.4 L302.4,477.3 L302.6,478.3 L302.7,479.3 L302.9,480.3 L303.1,481.3 L303.3,482.3 L303.5,483.2 L303.7,484.2 L303.9,485.2 L304.0,486.2 L304.2,487.2 L304.4,488.2 L304.6,489.1 L304.8,490.1 L305.0,491.1 L305.1,492.1 L305.3,493.1 L305.5,494.1 L305.7,495.0 L305.9,496.0 L306.1,497.0 L306.3,498.0 L306.5,499.0 L306.6,499.9 L306.8,500.9 L307.0,501.9 L307.2,502.9 L307.4,503.9 L307.6,504.9 L307.8,505.8 L308.0,506.8 L308.2,507.8 L308.3,508.8 L308.5,509.8 L308.7,510.8 L308.9,511.7 L309.1,512.7 L309.3,513.7 L309.5,514.7 L309.7,515.7 L309.9,516.6 L310.1,517.6 L310.3,518.6 L310.4,519.6 L310.6,520.6 L310.8,521.6 L311.0,522.5 L311.2,523.5 L311.4,524.5 L311.6,525.5 L311.8,526.5 L312.0,527.5 L312.2,528.4 L312.4,529.4 L312.6,530.4 L312.8,531.4 L313.0,532.4 L313.2,533.3 L313.4,534.3 L313.6,535.3 L313.8,536.3 L314.0,537.3 L314.2,538.3 L314.4,539.2 L314.6,540.2 L314.8,541.2 L315.0,542.2 L315.2,543.2 L315.4,544.1 L315.6,545.1 L315.8,546.1 L316.0,547.1 L316.2,548.1 L316.4,549.0 L316.6,550.0 L316.8,551.0 L317.0,552.0 L317.3,553.0 L317.5,553.9 L317.7,554.9 L317.9,555.9 L318.1,556.9 L318.3,557.9 L318.5,558.8 L318.7,559.8 L318.9,560.8 L319.2,561.8 L319.4,562.8 L319.6,563.7 L319.8,564.7 L320.0,565.7 L320.2,566.7 L320.5,567.6 L320.7,568.6 L320.9,569.6 L321.1,570.6 L321.4,571.5 L321.6,572.5 L321.8,573.5 L322.0,574.4 L322.3,575.4 L322.5,576.4 L322.7,577.4 L323.0,578.3 L323.2,579.3 L323.5,580.3 L323.7,581.2 L323.9,582.2 L324.2,583.1 L324.4,584.1 L324.7,585.1 L324.9,586.0 L325.2,587.0 L325.4,588.0 L325.7,588.9 L325.9,589.9 L326.2,590.8 L326.4,591.8 L326.7,592.7 L327.0,593.7 L327.2,594.6 L327.5,595.6 L327.8,596.5 L328.0,597.5 L328.3,598.4 L328.6,599.4 L328.8,600.3 L329.1,601.3 L329.4,602.2 L329.7,603.2 L330.0,604.1 L330.3,605.0 L330.5,606.0 L330.8,606.9 L331.1,607.8 L331.4,608.8 L331.7,609.7 L332.0,610.7 L332.3,611.6 L332.6,612.5 L332.9,613.5 L333.2,614.4 L333.6,615.3 L333.9,616.3 L334.2,617.2 L334.5,618.2 L334.8,619.1 L335.1,620.0 L335.5,621.0 L335.8,621.9 L336.1,622.9 L336.5,623.8 L336.8,624.8 L337.1,625.7 L337.5,626.7 L337.8,627.6 L338.1,628.6 L338.5,629.5 L338.8,630.5 L339.2,631.5 L339.5,632.4 L339.9,633.4 L340.2,634.4 L340.6,635.4 L340.9,636.4 L341.3,637.3 L341.7,638.3 L342.0,639.3 L342.4,640.3 L342.8,641.3 L343.2,642.3 L343.6,643.3 L343.9,644.3 L344.3,645.2 L344.7,646.2 L345.1,647.2 L345.6,648.2 L346.0,649.1 L346.4,650.1 L346.8,651.1 L347.3,652.0 L347.7,653.0 L348.2,653.9 L348.6,654.9 L349.1,655.8 L349.6,656.7 L350.1,657.6 L350.5,658.5 L351.0,659.4 L351.6,660.3 L352.1,661.2 L352.6,662.0 L353.2,662.9 L353.7,663.7 L354.3,664.5 L354.9,665.3 L355.4,666.1 L356.0,666.9 L356.7,667.7 L357.3,668.4 L357.9,669.1 L358.6,669.8 L359.2,670.5 L359.9,671.2 L360.6,671.9 L361.3,672.5 L362.0,673.1 L362.7,673.7 L363.5,674.3 L364.3,674.8 L365.0,675.4 L365.8,675.9 L366.6,676.4 L367.5,676.8 L368.3,677.3 L369.1,677.7 L370.0,678.1 L370.8,678.5 L371.7,678.8 L372.6,679.2 L373.5,679.5 L374.4,679.7 L375.3,680.0 L376.2,680.2 L377.1,680.5 L378.1,680.6 L379.0,680.8 L379.9,680.9 L380.9,681.1 L381.8,681.2 L382.7,681.2 L383.7,681.3 L384.6,681.3 L385.6,681.3 L386.5,681.2 L387.4,681.2 L388.4,681.1 L389.3,681.0 L390.3,680.9 L391.2,680.7 L392.2,680.6 L393.1,680.4 L394.0,680.1 L395.0,679.9 L395.9,679.7 L396.8,679.4 L397.8,679.1 L398.7,678.8 L399.6,678.5 L400.6,678.1 L401.5,677.8 L402.4,677.4 L403.4,677.0 L404.3,676.6 L405.2,676.2 L406.1,675.8 L407.1,675.4 L408.0,674.9 L408.9,674.5 L409.8,674.0 L410.7,673.6 L411.7,673.1 L412.6,672.6 L413.5,672.1 L414.4,671.6 L415.3,671.1 L416.2,670.6 L417.1,670.1 L418.0,669.5 L419.0,669.0 L419.9,668.5 L420.8,667.9 L421.7,667.4 L422.6,666.9 L423.5,666.3 L424.4,665.8 L425.2,665.3 L426.1,664.7 L427.0,664.2 L427.9,663.7 L428.8,663.1 L429.7,662.6 L430.6,662.1 L431.5,661.5 L432.3,661.0 L433.2,660.5 L434.1,660.0 L435.0,659.4 L435.9,658.9 L436.7,658.4 L437.6,657.9 L438.5,657.4 L439.4,656.9 L440.2,656.3 L441.1,655.8 L442.0,655.3 L442.9,654.8 L443.7,654.3 L444.6,653.8 L445.5,653.3 L446.3,652.8 L447.2,652.3 L448.1,651.8 L448.9,651.3 L449.8,650.8 L450.7,650.3 L451.6,649.8 L452.4,649.3 L453.3,648.9 L454.2,648.4 L455.0,647.9 L455.9,647.4 L456.8,647.0 L457.6,646.5 L458.5,646.0 L459.4,645.6 L460.3,645.1 L461.1,644.6 L462.0,644.2 L462.9,643.7 L463.8,643.3 L464.6,642.8 L465.5,642.4 L466.4,642.0 L467.3,641.5 L468.2,641.1 L469.1,640.7 L469.9,640.2 L470.8,639.8 L471.7,639.4 L472.6,639.0 L473.5,638.6 L474.4,638.2 L475.3,637.8 L476.2,637.4 L477.1,637.0 L478.0,636.6 L478.9,636.2 L479.8,635.8 L480.7,635.4 L481.6,635.1 L482.5,634.7 L483.4,634.3 L484.3,634.0 L485.3,633.6 L486.2,633.3 L487.1,632.9 L488.0,632.6 L489.0,632.2 L489.9,631.9 L490.8,631.6 L491.8,631.2 L492.7,630.9 L493.6,630.6 L494.6,630.3 L495.5,630.0 L496.5,629.7 L497.4,629.4 L498.4,629.1 L499.3,628.8 L500.3,628.5 L501.3,628.3 L502.2,628.0 L503.2,627.7 L504.1,627.5 L505.1,627.2 L506.1,627.0 L507.1,626.7 L508.0,626.5 L509.0,626.2 L510.0,626.0 L511.0,625.8 L511.9,625.6 L512.9,625.4 L513.9,625.2 L514.9,624.9 L515.9,624.8 L516.9,624.6 L517.9,624.4 L518.8,624.2 L519.8,624.0 L520.8,623.8 L521.8,623.7 L522.8,623.5 L523.8,623.4 L524.8,623.2 L525.8,623.1 L526.8,622.9 L527.8,622.8 L528.8,622.7 L529.8,622.5 L530.8,622.4 L531.8,622.3 L532.8,622.2 L533.8,622.1 L534.8,622.0 L535.8,621.9 L536.8,621.8 L537.8,621.8 L538.8,621.7 L539.8,621.6 L540.8,621.6 L541.9,621.5 L542.9,621.5 L543.9,621.4 L544.9,621.4 L545.9,621.4 L546.9,621.3 L547.9,621.3 L548.9,621.3 L549.9,621.3 L550.9,621.3 L551.9,621.3 L552.9,621.3 L553.9,621.3 L554.9,621.3 L555.9,621.4 L556.9,621.4 L557.9,621.4 L558.9,621.5 L559.9,621.5 L560.9,621.6 L561.9,621.7 L562.9,621.7 L563.9,621.8 L564.9,621.9 L565.9,622.0 L566.9,622.1 L567.9,622.2 L568.9,622.3 L569.9,622.4 L570.8,622.5 L571.8,622.6 L572.8,622.8 L573.8,622.9 L574.8,623.0 L575.8,623.2 L576.8,623.3 L577.8,623.5 L578.7,623.6 L579.7,623.8 L580.7,623.9 L581.7,624.1 L582.7,624.3 L583.7,624.5 L584.6,624.7 L585.6,624.9 L586.6,625.1 L587.6,625.3 L588.6,625.5 L589.5,625.7 L590.5,625.9 L591.5,626.1 L592.5,626.3 L593.4,626.6 L594.4,626.8 L595.4,627.0 L596.3,627.3 L597.3,627.5 L598.3,627.8 L599.2,628.0 L600.2,628.3 L601.2,628.6 L602.1,628.8 L603.1,629.1 L604.1,629.4 L605.0,629.7 L606.0,630.0 L606.9,630.2 L607.9,630.5 L608.9,630.8 L609.8,631.1 L610.8,631.4 L611.7,631.7 L612.7,632.1 L613.6,632.4 L614.6,632.7 L615.5,633.0 L616.5,633.3 L617.4,633.7 L618.4,634.0 L619.3,634.3 L620.3,634.7 L621.2,635.0 L622.1,635.4 L623.1,635.7 L624.0,636.1 L625.0,636.4 L625.9,636.8 L626.8,637.2 L627.8,637.5 L628.7,637.9 L629.6,638.3 L630.6,638.6 L631.5,639.0 L632.4,639.4 L633.4,639.8 L634.3,640.2 L635.2,640.6 L636.1,640.9 L637.0,641.3 L638.0,641.7 L638.9,642.1 L639.8,642.5 L640.7,642.9 L641.6,643.4 L642.6,643.8 L643.5,644.2 L644.4,644.6 L645.3,645.0 L646.2,645.4 L647.1,645.8 L648.0,646.3 L648.9,646.7 L649.8,647.1 L650.7,647.6 L651.6,648.0 L652.5,648.4 L653.4,648.9 L654.3,649.3 L655.2,649.7 L656.1,650.2 L657.0,650.6 L657.9,651.1 L658.8,651.5 L659.7,652.0 L660.6,652.4 L661.5,652.9 L662.4,653.3 L663.3,653.8 L664.1,654.3 L665.0,654.7 L665.9,655.2 L666.8,655.7 L667.7,656.1 L668.6,656.6 L669.4,657.1 L670.3,657.6 L671.2,658.0 L672.1,658.5 L672.9,659.0 L673.8,659.5 L674.7,660.0 L675.5,660.4 L676.4,660.9 L677.3,661.4 L678.2,661.9 L679.0,662.4 L679.9,662.9 L680.7,663.4 L681.6,663.9 L682.5,664.4 L683.3,664.9 L684.2,665.4 L685.1,665.9 L685.9,666.4 L686.8,666.9 L687.6,667.5 L688.5,668.0 L689.3,668.5 L690.2,669.0 L691.0,669.5 L691.9,670.0 L692.7,670.6 L693.6,671.1 L694.4,671.6 L695.3,672.1 L696.1,672.7 L697.0,673.2 L697.8,673.7 L698.7,674.2 L699.5,674.8 L700.4,675.3 L701.2,675.9 L702.0,676.4 L702.9,676.9 L703.7,677.5 L704.6,678.0 L705.4,678.6 L706.2,679.1 L707.1,679.6 L707.9,680.2 L708.7,680.7 L709.6,681.3 L710.4,681.8 L711.2,682.4 L712.1,682.9 L712.9,683.5 L713.7,684.1 L714.5,684.6 L715.4,685.2 L716.2,685.7 L717.0,686.3 L717.8,686.9 L718.7,687.4 L719.5,688.0 L720.3,688.6 L721.1,689.1 L722.0,689.7 L722.8,690.3 L723.6,690.8 L724.4,691.4 L725.2,692.0 L726.1,692.5 L726.9,693.1 L727.7,693.7 L728.5,694.3 L729.3,694.8 L730.1,695.4 L731.0,696.0 L731.8,696.6 L732.6,697.2 L733.4,697.7 L734.2,698.3 L735.0,698.9 L735.8,699.5 L736.6,700.1 L737.4,700.7 L738.3,701.3 L739.1,701.8 L739.9,702.4 L740.7,703.0 L741.5,703.6 L742.3,704.2 L743.1,704.8 L743.9,705.4 L744.7,706.0 L745.5,706.6 L746.3,707.2 L747.1,707.8 L747.9,708.4 L748.7,709.0 L749.5,709.6 L750.3,710.2 L751.1,710.8 L751.9,711.4 L752.7,712.0 L753.5,712.6 L754.3,713.2 L755.1,713.8 L755.9,714.4 L756.7,715.0 L757.5,715.6 L758.3,716.2 L759.1,716.8 L759.9,717.4 L760.7,718.0 L761.5,718.6 L762.3,719.2 L763.1,719.8 L763.9,720.4 L764.7,721.0 L765.5,721.6 L766.2,722.2 L767.0,722.9 L767.8,723.5 L768.6,724.1 L769.4,724.7 L770.2,725.3 L771.0,725.9 L771.8,726.5 L772.6,727.1 L773.4,727.8 L774.2,728.4 L774.9,729.0 L775.7,729.6 L776.5,730.2 L777.3,730.8 L778.1,731.5 L778.9,732.1 L779.7,732.7 L780.4,733.3 L781.2,733.9 L782.0,734.6 L782.8,735.2 L783.6,735.8 L784.4,736.4 L785.2,737.0 L785.9,737.7 L786.7,738.3 L787.5,738.9 L788.3,739.5 L789.1,740.1 L789.9,740.8 L790.6,741.4 L791.4,742.0 L792.2,742.6 L793.0,743.3 L793.8,743.9 L794.6,744.5 L795.3,745.1 L796.1,745.8 L796.9,746.4 L797.7,747.0 L798.5,747.6 L799.2,748.3 L800.0,748.9 L800.8,749.5 L801.6,750.2 L802.4,750.8 L803.1,751.4 L803.9,752.0 L804.7,752.7 L805.5,753.3 L806.2,753.9 L807.0,754.6 L807.8,755.2 L808.6,755.8 L809.4,756.4 L810.1,757.1 L810.9,757.7 L811.7,758.3 L812.5,759.0 L813.2,759.6 L814.0,760.2 L814.8,760.9 L815.6,761.5 L816.4,762.1 L817.1,762.8 L817.9,763.4 L818.7,764.0 L819.5,764.6 L820.2,765.3 L821.0,765.9 L821.8,766.5 L822.6,767.2 L823.3,767.8 L824.1,768.4 L824.9,769.1 L825.7,769.7 L826.5,770.3 L827.2,771.0 L828.0,771.6 L828.8,772.2 L829.6,772.9 L830.3,773.5 L831.1,774.1 L831.9,774.8 L832.7,775.4 L833.4,776.0 L834.2,776.7 L835.0,777.3 L835.8,777.9 L836.5,778.6 L837.3,779.2 L838.1,779.8 L838.9,780.4 L839.7,781.1 L840.4,781.7 L841.2,782.3 L842.0,783.0 L842.8,783.6 L843.5,784.2 L844.3,784.9 L845.1,785.5 L845.9,786.1 L846.6,786.8 L847.4,787.4 L848.2,788.0 L849.0,788.7 L849.8,789.3 L850.5,789.9 L851.3,790.5 L852.1,791.2 L852.9,791.8 L853.6,792.4 L854.4,793.1 L855.2,793.7 L856.0,794.3 L856.8,794.9 L857.5,795.6 L858.3,796.2 L859.1,796.8 L859.9,797.5 L860.7,798.1 L861.4,798.7 L862.2,799.3 L863.0,800.0 L863.8,800.6 L864.6,801.2 L865.3,801.8 L866.1,802.5 L866.9,803.1 L867.7,803.7 L868.5,804.3 L869.2,805.0 L870.0,805.6 L870.8,806.2 L871.6,806.8 L872.4,807.5 L873.2,808.1 L873.9,808.7 L874.7,809.3 L875.5,809.9 L876.3,810.6 L877.1,811.2 L877.9,811.8 L878.6,812.4 L879.4,813.0 L880.2,813.7 L881.0,814.3 L881.8,814.9 L882.6,815.5 L883.4,816.1 L884.1,816.8 L884.9,817.4 L885.7,818.0 L886.5,818.6 L887.3,819.2 L888.1,819.8 L888.9,820.4 L889.7,821.1 L890.5,821.7 L891.2,822.3 L892.0,822.9 L892.8,823.5 L893.6,824.1 L894.4,824.7 L895.2,825.3 L896.0,826.0 L896.8,826.6 L897.6,827.2 L898.4,827.8 L899.2,828.4 L900.0,829.0 L900.8,829.6 L901.6,830.2 L902.3,830.8 L903.1,831.4 L903.9,832.0 L904.7,832.6 L905.5,833.2 L906.3,833.8 L907.1,834.4 L907.9,835.0 L908.7,835.6 L909.5,836.2 L910.3,836.8 L911.1,837.4 L911.9,838.0 L912.7,838.6 L913.5,839.2 L914.3,839.8 L915.1,840.4 L915.9,841.0 L916.7,841.6 L917.6,842.2 L918.4,842.8 L919.2,843.4 L920.0,844.0 L920.8,844.5 L921.6,845.1 L922.4,845.7 L923.2,846.3 L924.0,846.9 L924.8,847.5 L925.6,848.1 L926.4,848.7 L927.2,849.2 L928.1,849.8 L928.9,850.4 L929.7,851.0 L930.5,851.6 L931.3,852.1 L932.1,852.7 L932.9,853.3 L933.8,853.9 L934.6,854.5 L935.4,855.0 L936.2,855.6 L937.0,856.2 L937.8,856.7 L938.7,857.3 L939.5,857.9 L940.3,858.5 L941.1,859.0 L941.9,859.6 L942.8,860.2 L943.6,860.7 L944.4,861.3 L945.2,861.9 L946.1,862.4 L946.9,863.0 L947.7,863.5 L948.5,864.1 L949.4,864.7 L950.2,865.2 L951.0,865.8 L951.9,866.3 L952.7,866.9 L953.5,867.5 L954.4,868.0 L955.2,868.6 L956.0,869.1 L956.9,869.7 L957.7,870.2 L958.5,870.8 L959.4,871.3 L960.2,871.9 L961.0,872.4 L961.9,872.9 L962.7,873.5 L963.6,874.0 L964.4,874.6 L965.2,875.1 L966.1,875.7 L966.9,876.2 L967.8,876.7 L968.6,877.3 L969.5,877.8 L970.3,878.3 L971.2,878.9 L972.0,879.4 L972.9,879.9 L973.7,880.5 L974.6,881.0 L975.4,881.5 L976.2,882.1 L977.1,882.6 L977.9,883.1 L978.8,883.6 L979.7,884.2 L980.5,884.7 L981.4,885.2 L982.2,885.8 L983.1,886.3 L983.9,886.8 L984.8,887.3 L985.6,887.9 L986.5,888.4 L987.3,888.9 L988.2,889.4 L989.0,889.9 L989.9,890.5 L990.7,891.0 L991.6,891.5 L992.5,892.0 L993.3,892.5 L994.2,893.1 L995.0,893.6 L995.9,894.1 L996.7,894.6 L997.6,895.1 L998.5,895.7 L999.3,896.2 L1000.2,896.7 L1001.0,897.2 L1001.9,897.7 L1002.7,898.3 L1003.6,898.8 L1004.5,899.3 L1005.3,899.8 L1006.2,900.3 L1007.0,900.9 L1007.9,901.4 L1008.7,901.9 L1009.6,902.4 L1010.5,902.9 L1011.3,903.5 L1012.2,904.0 L1013.0,904.5 L1013.9,905.0 L1014.7,905.5 L1015.6,906.1 L1016.4,906.6 L1017.3,907.1 L1018.2,907.6 L1019.0,908.1 L1019.9,908.7 L1020.7,909.2 L1021.6,909.7 L1022.4,910.2 L1023.3,910.8 L1024.1,911.3 L1025.0,911.8 L1025.8,912.3 L1026.7,912.8 L1027.5,913.4 L1028.4,913.9 L1029.2,914.4 L1030.1,915.0 L1030.9,915.5 L1031.8,916.0 L1032.6,916.5 L1033.5,917.1 L1034.3,917.6 L1035.2,918.1 L1036.0,918.7 L1036.9,919.2 L1037.7,919.7 L1038.6,920.3 L1039.4,920.8 L1040.3,921.3 L1041.1,921.9 L1041.9,922.4 L1042.8,923.0 L1043.6,923.5 L1044.5,924.0 L1045.3,924.6 L1046.1,925.1 L1047.0,925.7 L1047.8,926.2 L1048.7,926.8 L1049.5,927.3 L1050.3,927.9 L1051.2,928.4 L1052.0,929.0 L1052.8,929.5 L1053.7,930.1 L1054.5,930.6 L1055.3,931.2 L1056.2,931.7 L1057.0,932.3 L1057.8,932.9 L1058.6,933.4 L1059.5,934.0 L1060.3,934.5 L1061.1,935.1 L1061.9,935.7 L1062.7,936.2 L1063.6,936.8 L1064.4,937.4 L1065.2,937.9 L1066.0,938.5 L1066.8,939.1 L1067.7,939.7 L1068.5,940.2 L1069.3,940.8 L1070.1,941.4 L1070.9,942.0 L1071.7,942.6 L1072.5,943.2 L1073.3,943.7 L1074.1,944.3 L1074.9,944.9 L1075.7,945.5 L1076.5,946.1 L1077.3,946.7 L1078.1,947.3 L1078.9,947.9 L1079.7,948.5 L1080.5,949.1 L1081.3,949.7 L1082.1,950.3 L1082.9,950.9 L1083.7,951.5 L1084.5,952.1 L1085.3,952.8 L1086.1,953.4 L1086.9,954.0 L1087.6,954.6 L1088.4,955.2 L1089.2,955.8 L1090.0,956.4 L1090.8,957.1 L1091.6,957.7 L1092.3,958.3 L1093.1,958.9 L1093.9,959.6 L1094.7,960.2 L1095.5,960.8 L1096.2,961.4 L1097.0,962.1 L1097.8,962.7 L1098.6,963.3 L1099.4,963.9 L1100.1,964.6 L1100.9,965.2 L1101.7,965.8 L1102.5,966.5 L1103.2,967.1 L1104.0,967.7 L1104.8,968.3 L1105.6,969.0 L1106.3,969.6 L1107.1,970.2 L1107.9,970.9 L1108.6,971.5 L1109.4,972.1 L1110.2,972.8 L1111.0,973.4 L1111.7,974.1 L1112.5,974.7 L1113.3,975.3 L1114.1,976.0 L1114.8,976.6 L1115.6,977.2 L1116.4,977.9 L1117.2,978.5 L1117.9,979.1 L1118.7,979.8 L1119.5,980.4 L1120.3,981.0 L1121.0,981.7 L1121.8,982.3 L1122.6,982.9 L1123.4,983.6 L1124.1,984.2 L1124.9,984.8 L1125.7,985.4 L1126.5,986.1 L1127.2,986.7 L1128.0,987.3 L1128.8,988.0 L1129.6,988.6 L1130.4,989.2 L1131.1,989.8 L1131.9,990.5 L1132.7,991.1 L1133.5,991.7 L1134.3,992.3 L1135.1,992.9 L1135.8,993.6 L1136.6,994.2 L1137.4,994.8 L1138.2,995.4 L1139.0,996.0 L1139.8,996.7 L1140.6,997.2 L1141.4,997.7 L1142.2,998.3 L1143.0,999.0 L1143.8,999.7 L1144.6,1000.3 L1145.4,1000.9 L1146.2,1001.5 L1147.0,1002.0 L1147.8,1002.6 L1148.6,1003.3 L1149.4,1004.0 L1150.2,1004.3 L1151.0,1005.0 L1151.8,1005.7 L1152.6,1006.2 L1153.4,1006.7 L1154.2,1007.3 L1155.0,1007.9 L1155.8,1008.3 L1156.7,1009.0 L1157.5,1009.5 L1158.3,1010.0 L1159.1,1010.7 L1159.9,1011.4 L1160.8,1012.2 L1161.6,1012.9 L1162.4,1013.2 L1163.3,1013.5 L1164.1,1014.0 L1164.9,1014.3 L1165.8,1015.2 L1166.6,1016.4 L1167.4,1017.1 L1168.3,1017.6 L1169.1,1017.8 L1170.0,1017.9 L1170.8,1018.5 L1171.6,1019.3 L1172.5,1020.0 L1173.3,1020.6 L1174.2,1021.2 L1175.1,1021.7 L1175.9,1022.1 L1176.8,1022.4 L1177.6,1022.8 L1178.5,1022.7 L1179.4,1023.1 L1180.2,1024.6 L1181.1,1026.1 L1182.0,1026.7 L1182.8,1027.2 L1183.7,1026.9 L1184.6,1026.4 L1185.5,1026.9 L1186.3,1028.0 L1187.2,1028.6 L1188.1,1029.0 L1189.0,1029.4 L1189.9,1029.6 L1190.8,1030.1 L1191.6,1030.6 L1192.5,1031.3 L1193.4,1032.0 L1194.3,1032.4 L1195.2,1033.2 L1196.1,1033.5 L1197.0,1033.7 L1197.9,1034.2 L1198.8,1034.0 L1199.7,1034.3 L1200.6,1034.6 L1201.6,1034.6 L1202.5,1035.8 L1203.4,1036.7 L1204.3,1036.6 L1205.2,1036.9 L1206.1,1037.2 L1207.1,1037.6 L1208.0,1038.2 L1208.9,1038.2 L1209.9,1038.5 L1210.8,1039.2 L1211.7,1039.9 L1212.7,1039.8 L1213.6,1038.9 L1214.5,1038.8 L1215.5,1039.8 L1216.4,1040.4 L1217.4,1040.5 L1218.3,1041.3 L1219.3,1042.0 L1220.2,1042.5 L1221.2,1042.6 L1222.1,1042.2 L1223.1,1042.7 L1224.1,1043.8 L1225.0,1043.5 L1226.0,1042.9 L1226.9,1043.6 L1227.9,1044.7 L1228.9,1045.2 L1229.9,1045.1 L1230.8,1044.7 L1231.8,1044.2 L1232.8,1044.5 L1233.8,1045.1 L1234.7,1044.8 L1235.7,1044.5 L1236.7,1044.8 L1237.7,1045.7 L1238.7,1046.0 L1239.7,1045.7 L1240.7,1045.1 L1241.6,1045.5 L1242.6,1046.7 L1243.6,1046.5 L1244.6,1046.3 L1245.6,1046.8 L1246.6,1046.6 L1247.6,1045.8 L1248.6,1046.1 L1249.6,1046.9 L1250.6,1047.3 L1251.6,1047.3 L1252.6,1047.2 L1253.6,1047.3 L1254.6,1047.4 L1255.6,1047.2 L1256.6,1047.1 L1257.6,1047.4 L1258.6,1047.7 L1259.6,1047.8 L1260.6,1047.7 L1261.7,1047.9 L1262.7,1048.2 L1263.7,1048.5 L1264.7,1048.3 L1265.7,1048.1 L1266.7,1048.3 L1267.7,1048.1 L1268.7,1048.3 L1269.7,1048.6 L1270.7,1049.1 L1271.7,1049.0 L1272.8,1048.4 L1273.8,1048.8 L1274.8,1049.1 L1275.8,1048.9 L1276.8,1049.0 L1277.8,1049.0 L1278.8,1048.9 L1279.8,1048.9 L1280.8,1049.5 L1281.8,1049.9 L1282.8,1049.7 L1283.9,1049.7 L1284.9,1050.6 L1285.9,1050.8 L1286.9,1049.9 L1287.9,1049.3 L1288.9,1049.6 L1289.9,1050.2 L1290.9,1050.3 L1291.9,1049.3 L1292.9,1048.9 L1293.9,1049.7 L1294.9,1050.1 L1295.9,1050.2 L1296.9,1050.1 L1297.9,1049.8 L1298.9,1049.9 L1300.0,1050.2 L1301.0,1050.7 L1302.0,1051.0 L1303.0,1050.5 L1304.0,1050.4 L1305.0,1051.0 L1306.0,1051.1 L1307.0,1050.3 L1308.0,1049.6 L1309.0,1049.9 L1310.0,1050.7 L1311.0,1051.0 L1312.0,1050.8 L1313.0,1050.8 L1314.0,1050.7 L1315.0,1050.8 L1316.0,1051.1 L1317.0,1051.1 L1318.0,1051.3 L1319.0,1051.8 L1320.0,1051.8 L1321.0,1051.2 L1322.0,1050.8 L1323.0,1050.5 L1324.0,1050.6 L1325.0,1051.2 L1326.0,1051.0 L1327.0,1050.8 L1328.0,1051.3 L1329.0,1051.3 L1330.0,1051.5 L1331.0,1051.9 L1332.0,1052.0 L1333.0,1051.5 L1334.0,1051.2 L1335.0,1051.6 L1336.0,1051.6 L1337.0,1050.9 L1338.0,1051.1 L1339.0,1052.2 L1340.0,1052.5 L1341.0,1052.4 L1342.0,1052.5 L1343.0,1052.1 L1344.0,1051.9 L1345.0,1052.6 L1346.0,1053.1 L1347.0,1053.2 L1348.0,1053.6 L1349.0,1053.5 L1350.0,1052.6 L1351.0,1052.5 L1352.0,1053.0 L1353.0,1053.0 L1354.0,1053.1 L1355.0,1053.4 L1356.0,1053.3 L1357.0,1052.9 L1358.0,1052.8 L1359.0,1052.7 L1360.0,1052.6 L1361.0,1052.2 L1362.0,1052.1 L1363.0,1052.5 L1364.0,1053.1 L1365.0,1053.8 L1365.9,1054.1 L1366.9,1053.8 L1367.9,1053.5 L1368.9,1053.1 L1369.9,1053.0 L1370.9,1053.2 L1371.9,1053.5 L1372.9,1053.7 L1373.9,1054.1 L1374.9,1054.3 L1375.9,1053.7 L1376.9,1053.1 L1377.9,1053.4 L1378.9,1053.7 L1379.9,1054.1 L1380.9,1054.3 L1381.9,1053.9 L1382.9,1054.0 L1383.9,1054.1 L1384.9,1053.9 L1385.9,1054.2 L1386.9,1054.6 L1387.9,1054.8 L1388.8,1054.9 L1389.8,1054.8 L1390.8,1054.3 L1391.8,1053.5 L1392.8,1053.1 L1393.8,1053.9 L1394.8,1054.9 L1395.8,1054.4 L1396.8,1053.7 L1397.8,1054.2 L1398.8,1054.4 L1399.8,1054.2 L1400.8,1054.4 L1401.8,1054.7 L1402.8,1055.0 L1403.8,1055.6 L1404.8,1055.8 L1405.8,1055.1 L1406.8,1054.6 L1407.8,1054.8 L1408.8,1055.2 L1409.7,1055.5 L1410.7,1055.5 L1411.7,1055.2 L1412.7,1054.7 L1413.7,1054.6 L1414.7,1054.6 L1415.7,1054.8 L1416.7,1055.4 L1417.7,1055.9 L1418.7,1056.0 L1419.7,1055.7 L1420.7,1055.5 L1421.7,1055.5 L1422.7,1055.4 L1423.7,1055.7 L1424.7,1056.0 L1425.7,1055.7 L1426.7,1055.5 L1427.7,1055.7 L1428.7,1055.9 L1429.7,1055.6 L1430.7,1055.3 L1431.6,1055.4 L1432.6,1055.8 L1433.6,1056.3 L1434.6,1056.1 L1435.6,1055.7 L1436.6,1056.1 L1437.6,1056.5 L1438.6,1056.4 L1439.6,1056.2 L1440.6,1056.3 L1441.6,1056.6 L1442.6,1056.8 L1443.6,1057.0 L1444.6,1057.1 L1445.6,1057.0 L1446.6,1056.9 L1447.6,1056.5 L1448.6,1055.9 L1449.6,1055.7 L1450.6,1055.7 L1451.6,1056.1 L1452.6,1056.7 L1453.6,1056.8 L1454.6,1056.7 L1455.6,1056.7 L1456.6,1056.6 L1457.6,1056.7 L1458.6,1057.0 L1459.6,1057.0 L1460.6,1056.8 L1461.6,1057.2 L1462.6,1057.7 L1463.6,1057.7 L1464.6,1057.3 L1465.6,1056.9 L1466.6,1056.9 L1467.6,1057.0 L1468.6,1057.0 L1469.6,1057.5 L1470.6,1057.6 L1471.6,1057.4 L1472.6,1057.4 L1473.5,1057.3 L1474.5,1057.5 L1475.6,1057.9 L1476.6,1058.1 L1477.6,1058.0 L1478.6,1057.6 L1479.6,1057.6 L1480.6,1057.8 L1481.6,1057.6 L1482.6,1057.6 L1483.6,1058.1 L1484.6,1058.1 L1485.6,1057.7 L1486.6,1057.7 L1487.6,1057.9 L1488.6,1057.9 L1489.6,1057.9 L1490.6,1058.1 L1491.6,1058.1 L1492.6,1057.8 L1493.6,1057.6 L1494.6,1057.7 L1495.6,1057.9 L1496.6,1058.3 L1497.6,1058.5 L1498.6,1058.3 L1499.6,1058.4 L1500.6,1058.5 L1501.6,1058.5 L1502.6,1058.6 L1503.6,1058.5 L1504.6,1058.4 L1505.6,1058.6 L1506.6,1058.9 L1507.6,1058.9 L1508.6,1058.8 L1509.6,1058.9 L1510.7,1058.8 L1511.7,1058.8 L1512.7,1059.1 L1513.7,1059.2 L1514.7,1059.0 L1515.7,1058.8 L1516.7,1058.9 L1517.7,1059.1 L1518.7,1059.1 L1519.7,1058.9 L1520.7,1058.9 L1521.7,1059.0 L1522.7,1059.0 L1523.8,1059.0 L1524.8,1059.3 L1525.8,1059.5" fill="none" stroke="#ee3c3e" stroke-width="5" stroke-linejoin="round" stroke-linecap="butt" shape-rendering="crispEdges"/><path d="M239.1,90.0 L239.2,91.0 L239.3,92.0 L239.4,93.0 L239.6,94.0 L239.7,95.0 L239.8,96.0 L239.9,97.0 L240.0,98.0 L240.2,99.0 L240.3,100.0 L240.4,101.0 L240.5,102.0 L240.6,102.9 L240.8,103.9 L240.9,104.9 L241.0,105.9 L241.1,106.9 L241.3,107.9 L241.4,108.9 L241.5,109.9 L241.7,110.9 L241.8,111.9 L241.9,112.9 L242.1,113.9 L242.2,114.8 L242.3,115.8 L242.5,116.8 L242.6,117.8 L242.7,118.8 L242.9,119.8 L243.0,120.8 L243.2,121.8 L243.3,122.8 L243.4,123.8 L243.6,124.7 L243.7,125.7 L243.9,126.7 L244.0,127.7 L244.2,128.7 L244.3,129.7 L244.4,130.7 L244.6,131.7 L244.7,132.7 L244.9,133.6 L245.0,134.6 L245.2,135.6 L245.3,136.6 L245.5,137.6 L245.6,138.6 L245.8,139.6 L246.0,140.6 L246.1,141.5 L246.3,142.5 L246.4,143.5 L246.6,144.5 L246.7,145.5 L246.9,146.5 L247.0,147.5 L247.2,148.4 L247.4,149.4 L247.5,150.4 L247.7,151.4 L247.9,152.4 L248.0,153.4 L248.2,154.4 L248.3,155.3 L248.5,156.3 L248.7,157.3 L248.8,158.3 L249.0,159.3 L249.2,160.3 L249.3,161.3 L249.5,162.2 L249.7,163.2 L249.8,164.2 L250.0,165.2 L250.2,166.2 L250.4,167.2 L250.5,168.2 L250.7,169.1 L250.9,170.1 L251.0,171.1 L251.2,172.1 L251.4,173.1 L251.6,174.1 L251.7,175.0 L251.9,176.0 L252.1,177.0 L252.3,178.0 L252.4,179.0 L252.6,180.0 L252.8,180.9 L253.0,181.9 L253.2,182.9 L253.3,183.9 L253.5,184.9 L253.7,185.9 L253.9,186.8 L254.1,187.8 L254.3,188.8 L254.4,189.8 L254.6,190.8 L254.8,191.7 L255.0,192.7 L255.2,193.7 L255.4,194.7 L255.5,195.7 L255.7,196.7 L255.9,197.6 L256.1,198.6 L256.3,199.6 L256.5,200.6 L256.7,201.6 L256.9,202.5 L257.0,203.5 L257.2,204.5 L257.4,205.5 L257.6,206.5 L257.8,207.5 L258.0,208.4 L258.2,209.4 L258.4,210.4 L258.6,211.4 L258.8,212.4 L259.0,213.3 L259.2,214.3 L259.4,215.3 L259.5,216.3 L259.7,217.3 L259.9,218.2 L260.1,219.2 L260.3,220.2 L260.5,221.2 L260.7,222.2 L260.9,223.1 L261.1,224.1 L261.3,225.1 L261.5,226.1 L261.7,227.1 L261.9,228.0 L262.1,229.0 L262.3,230.0 L262.5,231.0 L262.7,232.0 L262.9,232.9 L263.1,233.9 L263.3,234.9 L263.5,235.9 L263.7,236.9 L263.9,237.8 L264.1,238.8 L264.3,239.8 L264.5,240.8 L264.7,241.8 L264.9,242.7 L265.1,243.7 L265.3,244.7 L265.5,245.7 L265.7,246.7 L265.9,247.6 L266.1,248.6 L266.3,249.6 L266.5,250.6 L266.7,251.5 L266.9,252.5 L267.1,253.5 L267.4,254.5 L267.6,255.5 L267.8,256.4 L268.0,257.4 L268.2,258.4 L268.4,259.4 L268.6,260.4 L268.8,261.3 L269.0,262.3 L269.2,263.3 L269.4,264.3 L269.6,265.2 L269.8,266.2 L270.0,267.2 L270.2,268.2 L270.4,269.2 L270.6,270.1 L270.9,271.1 L271.1,272.1 L271.3,273.1 L271.5,274.1 L271.7,275.0 L271.9,276.0 L272.1,277.0 L272.3,278.0 L272.5,278.9 L272.7,279.9 L272.9,280.9 L273.1,281.9 L273.3,282.9 L273.6,283.8 L273.8,284.8 L274.0,285.8 L274.2,286.8 L274.4,287.8 L274.6,288.7 L274.8,289.7 L275.0,290.7 L275.2,291.7 L275.4,292.6 L275.6,293.6 L275.8,294.6 L276.0,295.6 L276.3,296.6 L276.5,297.5 L276.7,298.5 L276.9,299.5 L277.1,300.5 L277.3,301.5 L277.5,302.4 L277.7,303.4 L277.9,304.4 L278.1,305.4 L278.3,306.3 L278.5,307.3 L278.7,308.3 L279.0,309.3 L279.2,310.3 L279.4,311.2 L279.6,312.2 L279.8,313.2 L280.0,314.2 L280.2,315.2 L280.4,316.1 L280.6,317.1 L280.8,318.1 L281.0,319.1 L281.2,320.0 L281.4,321.0 L281.6,322.0 L281.8,323.0 L282.1,324.0 L282.3,324.9 L282.5,325.9 L282.7,326.9 L282.9,327.9 L283.1,328.9 L283.3,329.8 L283.5,330.8 L283.7,331.8 L283.9,332.8 L284.1,333.8 L284.3,334.7 L284.5,335.7 L284.7,336.7 L284.9,337.7 L285.1,338.6 L285.3,339.6 L285.5,340.6 L285.7,341.6 L285.9,342.6 L286.1,343.5 L286.3,344.5 L286.6,345.5 L286.8,346.5 L287.0,347.5 L287.2,348.4 L287.4,349.4 L287.6,350.4 L287.8,351.4 L288.0,352.4 L288.2,353.3 L288.4,354.3 L288.6,355.3 L288.8,356.3 L289.0,357.3 L289.2,358.2 L289.4,359.2 L289.6,360.2 L289.8,361.2 L290.0,362.1 L290.2,363.1 L290.4,364.1 L290.6,365.1 L290.8,366.1 L291.0,367.0 L291.2,368.0 L291.4,369.0 L291.6,370.0 L291.8,371.0 L292.0,371.9 L292.2,372.9 L292.4,373.9 L292.6,374.9 L292.8,375.9 L293.0,376.8 L293.2,377.8 L293.4,378.8 L293.6,379.8 L293.8,380.8 L294.0,381.7 L294.2,382.7 L294.4,383.7 L294.6,384.7 L294.8,385.7 L295.0,386.6 L295.2,387.6 L295.4,388.6 L295.6,389.6 L295.8,390.6 L296.0,391.5 L296.2,392.5 L296.4,393.5 L296.6,394.5 L296.8,395.5 L297.0,396.4 L297.2,397.4 L297.4,398.4 L297.6,399.4 L297.8,400.4 L298.0,401.3 L298.2,402.3 L298.4,403.3 L298.6,404.3 L298.8,405.3 L299.0,406.2 L299.2,407.2 L299.4,408.2 L299.6,409.2 L299.8,410.2 L300.0,411.1 L300.2,412.1 L300.4,413.1 L300.6,414.1 L300.8,415.1 L301.0,416.0 L301.2,417.0 L301.4,418.0 L301.6,419.0 L301.8,419.9 L302.0,420.9 L302.2,421.9 L302.4,422.9 L302.6,423.9 L302.8,424.8 L303.0,425.8 L303.2,426.8 L303.4,427.8 L303.6,428.8 L303.8,429.7 L304.0,430.7 L304.2,431.7 L304.4,432.7 L304.6,433.7 L304.7,434.6 L304.9,435.6 L305.1,436.6 L305.3,437.6 L305.5,438.6 L305.7,439.5 L305.9,440.5 L306.1,441.5 L306.3,442.5 L306.5,443.5 L306.7,444.4 L306.9,445.4 L307.1,446.4 L307.3,447.4 L307.5,448.4 L307.7,449.3 L307.9,450.3 L308.1,451.3 L308.3,452.3 L308.5,453.3 L308.7,454.2 L308.9,455.2 L309.1,456.2 L309.3,457.2 L309.5,458.1 L309.7,459.1 L309.9,460.1 L310.1,461.1 L310.3,462.1 L310.5,463.0 L310.7,464.0 L310.9,465.0 L311.1,466.0 L311.3,467.0 L311.5,467.9 L311.7,468.9 L311.9,469.9 L312.1,470.9 L312.3,471.9 L312.5,472.8 L312.7,473.8 L312.9,474.8 L313.1,475.8 L313.3,476.7 L313.5,477.7 L313.7,478.7 L313.9,479.7 L314.1,480.7 L314.3,481.6 L314.5,482.6 L314.7,483.6 L314.9,484.6 L315.1,485.6 L315.3,486.5 L315.5,487.5 L315.7,488.5 L315.9,489.5 L316.1,490.4 L316.3,491.4 L316.5,492.4 L316.7,493.4 L316.9,494.3 L317.1,495.3 L317.4,496.3 L317.6,497.3 L317.8,498.2 L318.0,499.2 L318.2,500.2 L318.4,501.2 L318.6,502.2 L318.8,503.1 L319.1,504.1 L319.3,505.1 L319.5,506.1 L319.7,507.0 L319.9,508.0 L320.1,509.0 L320.4,510.0 L320.6,510.9 L320.8,511.9 L321.0,512.9 L321.2,513.8 L321.5,514.8 L321.7,515.8 L321.9,516.8 L322.1,517.7 L322.4,518.7 L322.6,519.7 L322.8,520.7 L323.1,521.6 L323.3,522.6 L323.5,523.6 L323.8,524.5 L324.0,525.5 L324.2,526.5 L324.5,527.5 L324.7,528.4 L324.9,529.4 L325.2,530.4 L325.4,531.3 L325.7,532.3 L325.9,533.3 L326.1,534.3 L326.4,535.2 L326.6,536.2 L326.9,537.2 L327.1,538.1 L327.4,539.1 L327.6,540.1 L327.9,541.0 L328.1,542.0 L328.4,543.0 L328.7,543.9 L328.9,544.9 L329.2,545.9 L329.4,546.8 L329.7,547.8 L330.0,548.8 L330.2,549.7 L330.5,550.7 L330.8,551.7 L331.0,552.6 L331.3,553.6 L331.6,554.6 L331.8,555.5 L332.1,556.5 L332.4,557.4 L332.7,558.4 L332.9,559.4 L333.2,560.3 L333.5,561.3 L333.8,562.3 L334.1,563.2 L334.4,564.2 L334.7,565.1 L334.9,566.1 L335.2,567.1 L335.5,568.0 L335.8,569.0 L336.1,569.9 L336.4,570.9 L336.7,571.8 L337.0,572.8 L337.3,573.8 L337.7,574.7 L338.0,575.7 L338.3,576.6 L338.6,577.6 L339.0,578.5 L339.3,579.4 L339.6,580.4 L340.0,581.3 L340.3,582.3 L340.7,583.2 L341.0,584.1 L341.4,585.1 L341.8,586.0 L342.2,586.9 L342.5,587.8 L342.9,588.8 L343.3,589.7 L343.7,590.6 L344.1,591.5 L344.6,592.4 L345.0,593.3 L345.4,594.2 L345.9,595.1 L346.3,596.0 L346.8,596.9 L347.2,597.8 L347.7,598.7 L348.2,599.5 L348.7,600.4 L349.2,601.3 L349.7,602.1 L350.2,603.0 L350.8,603.9 L351.3,604.7 L351.9,605.5 L352.4,606.4 L353.0,607.2 L353.6,608.0 L354.2,608.9 L354.8,609.7 L355.4,610.5 L356.0,611.3 L356.7,612.1 L357.3,612.9 L358.0,613.7 L358.7,614.5 L359.4,615.2 L360.1,616.0 L360.8,616.7 L361.5,617.4 L362.2,618.1 L363.0,618.8 L363.8,619.5 L364.5,620.1 L365.3,620.7 L366.1,621.3 L366.9,621.9 L367.7,622.4 L368.6,622.9 L369.4,623.4 L370.3,623.8 L371.2,624.2 L372.0,624.6 L372.9,624.9 L373.8,625.2 L374.8,625.5 L375.7,625.7 L376.6,625.9 L377.5,626.0 L378.5,626.1 L379.4,626.2 L380.3,626.3 L381.2,626.3 L382.2,626.3 L383.1,626.2 L384.0,626.2 L384.9,626.1 L385.8,625.9 L386.8,625.8 L387.7,625.6 L388.6,625.4 L389.5,625.2 L390.4,624.9 L391.4,624.6 L392.3,624.3 L393.2,624.0 L394.1,623.7 L395.0,623.3 L395.9,622.9 L396.8,622.5 L397.7,622.1 L398.6,621.7 L399.5,621.2 L400.5,620.8 L401.4,620.3 L402.3,619.8 L403.1,619.3 L404.0,618.8 L404.9,618.3 L405.8,617.7 L406.7,617.2 L407.6,616.6 L408.5,616.1 L409.4,615.5 L410.3,614.9 L411.1,614.4 L412.0,613.8 L412.9,613.2 L413.8,612.6 L414.6,612.0 L415.5,611.4 L416.4,610.8 L417.2,610.2 L418.1,609.7 L419.0,609.1 L419.8,608.5 L420.7,607.9 L421.5,607.3 L422.4,606.7 L423.2,606.1 L424.1,605.6 L424.9,605.0 L425.7,604.4 L426.6,603.8 L427.4,603.2 L428.3,602.7 L429.1,602.1 L429.9,601.5 L430.8,600.9 L431.6,600.4 L432.4,599.8 L433.3,599.2 L434.1,598.7 L434.9,598.1 L435.7,597.5 L436.6,597.0 L437.4,596.4 L438.2,595.8 L439.0,595.3 L439.9,594.7 L440.7,594.2 L441.5,593.6 L442.3,593.1 L443.2,592.5 L444.0,592.0 L444.8,591.4 L445.6,590.9 L446.5,590.3 L447.3,589.8 L448.1,589.3 L448.9,588.7 L449.7,588.2 L450.6,587.6 L451.4,587.1 L452.2,586.6 L453.1,586.1 L453.9,585.5 L454.7,585.0 L455.5,584.5 L456.4,584.0 L457.2,583.4 L458.0,582.9 L458.9,582.4 L459.7,581.9 L460.5,581.4 L461.4,580.9 L462.2,580.4 L463.1,579.9 L463.9,579.4 L464.7,578.9 L465.6,578.4 L466.4,577.9 L467.3,577.4 L468.1,576.9 L469.0,576.4 L469.9,575.9 L470.7,575.5 L471.6,575.0 L472.4,574.5 L473.3,574.0 L474.2,573.6 L475.1,573.1 L475.9,572.6 L476.8,572.2 L477.7,571.7 L478.6,571.3 L479.5,570.8 L480.3,570.3 L481.2,569.9 L482.1,569.5 L483.0,569.0 L483.9,568.6 L484.8,568.1 L485.7,567.7 L486.6,567.3 L487.5,566.9 L488.4,566.4 L489.4,566.0 L490.3,565.6 L491.2,565.2 L492.1,564.8 L493.0,564.4 L494.0,564.0 L494.9,563.6 L495.8,563.2 L496.7,562.8 L497.7,562.4 L498.6,562.1 L499.5,561.7 L500.5,561.3 L501.4,560.9 L502.4,560.6 L503.3,560.2 L504.2,559.9 L505.2,559.5 L506.1,559.2 L507.1,558.9 L508.0,558.5 L509.0,558.2 L509.9,557.9 L510.9,557.5 L511.9,557.2 L512.8,556.9 L513.8,556.6 L514.7,556.3 L515.7,556.0 L516.7,555.7 L517.6,555.5 L518.6,555.2 L519.6,554.9 L520.5,554.7 L521.5,554.4 L522.5,554.1 L523.4,553.9 L524.4,553.7 L525.4,553.4 L526.4,553.2 L527.3,553.0 L528.3,552.7 L529.3,552.5 L530.3,552.3 L531.3,552.1 L532.2,551.9 L533.2,551.7 L534.2,551.6 L535.2,551.4 L536.2,551.2 L537.2,551.1 L538.2,550.9 L539.1,550.8 L540.1,550.6 L541.1,550.5 L542.1,550.4 L543.1,550.2 L544.1,550.1 L545.1,550.0 L546.1,549.9 L547.1,549.8 L548.1,549.7 L549.0,549.7 L550.0,549.6 L551.0,549.5 L552.0,549.5 L553.0,549.4 L554.0,549.4 L555.0,549.4 L556.0,549.3 L557.0,549.3 L558.0,549.3 L559.0,549.3 L560.0,549.3 L561.0,549.3 L562.0,549.3 L563.0,549.3 L564.0,549.4 L565.0,549.4 L565.9,549.4 L566.9,549.5 L567.9,549.5 L568.9,549.6 L569.9,549.7 L570.9,549.7 L571.9,549.8 L572.9,549.9 L573.9,550.0 L574.9,550.1 L575.9,550.2 L576.9,550.3 L577.9,550.4 L578.8,550.6 L579.8,550.7 L580.8,550.8 L581.8,551.0 L582.8,551.1 L583.8,551.3 L584.8,551.4 L585.8,551.6 L586.8,551.8 L587.7,551.9 L588.7,552.1 L589.7,552.3 L590.7,552.5 L591.7,552.7 L592.7,552.9 L593.6,553.1 L594.6,553.3 L595.6,553.5 L596.6,553.8 L597.5,554.0 L598.5,554.2 L599.5,554.5 L600.5,554.7 L601.4,555.0 L602.4,555.2 L603.4,555.5 L604.4,555.7 L605.3,556.0 L606.3,556.3 L607.3,556.6 L608.2,556.9 L609.2,557.1 L610.2,557.4 L611.1,557.7 L612.1,558.0 L613.0,558.3 L614.0,558.6 L614.9,559.0 L615.9,559.3 L616.8,559.6 L617.8,559.9 L618.7,560.3 L619.7,560.6 L620.6,560.9 L621.6,561.3 L622.5,561.6 L623.5,562.0 L624.4,562.3 L625.3,562.7 L626.3,563.1 L627.2,563.4 L628.1,563.8 L629.1,564.2 L630.0,564.5 L630.9,564.9 L631.9,565.3 L632.8,565.7 L633.7,566.1 L634.6,566.5 L635.5,566.9 L636.5,567.3 L637.4,567.7 L638.3,568.1 L639.2,568.5 L640.1,568.9 L641.0,569.4 L641.9,569.8 L642.8,570.2 L643.7,570.6 L644.6,571.1 L645.5,571.5 L646.4,571.9 L647.3,572.4 L648.2,572.8 L649.1,573.3 L650.0,573.7 L650.9,574.2 L651.7,574.6 L652.6,575.1 L653.5,575.5 L654.4,576.0 L655.3,576.5 L656.2,577.0 L657.0,577.4 L657.9,577.9 L658.8,578.4 L659.7,578.9 L660.5,579.4 L661.4,579.8 L662.3,580.3 L663.1,580.8 L664.0,581.3 L664.9,581.8 L665.7,582.3 L666.6,582.8 L667.4,583.3 L668.3,583.8 L669.1,584.4 L670.0,584.9 L670.9,585.4 L671.7,585.9 L672.6,586.4 L673.4,586.9 L674.2,587.5 L675.1,588.0 L675.9,588.5 L676.8,589.1 L677.6,589.6 L678.5,590.1 L679.3,590.7 L680.1,591.2 L681.0,591.8 L681.8,592.3 L682.6,592.9 L683.5,593.4 L684.3,594.0 L685.1,594.5 L686.0,595.1 L686.8,595.6 L687.6,596.2 L688.5,596.8 L689.3,597.3 L690.1,597.9 L690.9,598.5 L691.7,599.0 L692.6,599.6 L693.4,600.2 L694.2,600.7 L695.0,601.3 L695.8,601.9 L696.6,602.5 L697.5,603.1 L698.3,603.7 L699.1,604.2 L699.9,604.8 L700.7,605.4 L701.5,606.0 L702.3,606.6 L703.1,607.2 L703.9,607.8 L704.7,608.4 L705.5,609.0 L706.3,609.6 L707.1,610.2 L707.9,610.8 L708.7,611.4 L709.5,612.0 L710.3,612.6 L711.1,613.2 L711.9,613.8 L712.7,614.4 L713.5,615.0 L714.3,615.6 L715.1,616.3 L715.9,616.9 L716.7,617.5 L717.4,618.1 L718.2,618.7 L719.0,619.3 L719.8,620.0 L720.6,620.6 L721.4,621.2 L722.2,621.8 L722.9,622.5 L723.7,623.1 L724.5,623.7 L725.3,624.3 L726.1,625.0 L726.9,625.6 L727.6,626.2 L728.4,626.8 L729.2,627.5 L730.0,628.1 L730.7,628.7 L731.5,629.4 L732.3,630.0 L733.1,630.6 L733.8,631.3 L734.6,631.9 L735.4,632.5 L736.2,633.2 L736.9,633.8 L737.7,634.5 L738.5,635.1 L739.2,635.7 L740.0,636.4 L740.8,637.0 L741.5,637.7 L742.3,638.3 L743.1,639.0 L743.8,639.6 L744.6,640.2 L745.4,640.9 L746.1,641.5 L746.9,642.2 L747.6,642.8 L748.4,643.5 L749.2,644.1 L749.9,644.8 L750.7,645.4 L751.4,646.1 L752.2,646.7 L753.0,647.4 L753.7,648.0 L754.5,648.7 L755.2,649.3 L756.0,650.0 L756.7,650.7 L757.5,651.3 L758.2,652.0 L759.0,652.6 L759.7,653.3 L760.5,653.9 L761.3,654.6 L762.0,655.3 L762.8,655.9 L763.5,656.6 L764.3,657.3 L765.0,657.9 L765.8,658.6 L766.5,659.2 L767.2,659.9 L768.0,660.6 L768.7,661.2 L769.5,661.9 L770.2,662.6 L771.0,663.2 L771.7,663.9 L772.5,664.6 L773.2,665.2 L774.0,665.9 L774.7,666.6 L775.4,667.2 L776.2,667.9 L776.9,668.6 L777.7,669.2 L778.4,669.9 L779.2,670.6 L779.9,671.3 L780.6,671.9 L781.4,672.6 L782.1,673.3 L782.9,674.0 L783.6,674.6 L784.3,675.3 L785.1,676.0 L785.8,676.7 L786.6,677.3 L787.3,678.0 L788.0,678.7 L788.8,679.4 L789.5,680.0 L790.2,680.7 L791.0,681.4 L791.7,682.1 L792.4,682.7 L793.2,683.4 L793.9,684.1 L794.7,684.8 L795.4,685.5 L796.1,686.1 L796.9,686.8 L797.6,687.5 L798.3,688.2 L799.1,688.9 L799.8,689.5 L800.5,690.2 L801.3,690.9 L802.0,691.6 L802.7,692.3 L803.4,692.9 L804.2,693.6 L804.9,694.3 L805.6,695.0 L806.4,695.7 L807.1,696.4 L807.8,697.0 L808.6,697.7 L809.3,698.4 L810.0,699.1 L810.8,699.8 L811.5,700.5 L812.2,701.1 L813.0,701.8 L813.7,702.5 L814.4,703.2 L815.1,703.9 L815.9,704.6 L816.6,705.2 L817.3,705.9 L818.1,706.6 L818.8,707.3 L819.5,708.0 L820.2,708.7 L821.0,709.4 L821.7,710.0 L822.4,710.7 L823.2,711.4 L823.9,712.1 L824.6,712.8 L825.3,713.5 L826.1,714.2 L826.8,714.8 L827.5,715.5 L828.3,716.2 L829.0,716.9 L829.7,717.6 L830.4,718.3 L831.2,719.0 L831.9,719.6 L832.6,720.3 L833.4,721.0 L834.1,721.7 L834.8,722.4 L835.5,723.1 L836.3,723.8 L837.0,724.4 L837.7,725.1 L838.5,725.8 L839.2,726.5 L839.9,727.2 L840.6,727.9 L841.4,728.6 L842.1,729.2 L842.8,729.9 L843.6,730.6 L844.3,731.3 L845.0,732.0 L845.7,732.7 L846.5,733.3 L847.2,734.0 L847.9,734.7 L848.7,735.4 L849.4,736.1 L850.1,736.8 L850.9,737.5 L851.6,738.1 L852.3,738.8 L853.0,739.5 L853.8,740.2 L854.5,740.9 L855.2,741.5 L856.0,742.2 L856.7,742.9 L857.4,743.6 L858.2,744.3 L858.9,745.0 L859.6,745.6 L860.4,746.3 L861.1,747.0 L861.8,747.7 L862.6,748.4 L863.3,749.0 L864.0,749.7 L864.8,750.4 L865.5,751.1 L866.2,751.8 L867.0,752.4 L867.7,753.1 L868.4,753.8 L869.2,754.5 L869.9,755.1 L870.6,755.8 L871.4,756.5 L872.1,757.2 L872.9,757.8 L873.6,758.5 L874.3,759.2 L875.1,759.9 L875.8,760.5 L876.5,761.2 L877.3,761.9 L878.0,762.6 L878.8,763.2 L879.5,763.9 L880.2,764.6 L881.0,765.2 L881.7,765.9 L882.5,766.6 L883.2,767.3 L883.9,767.9 L884.7,768.6 L885.4,769.3 L886.2,769.9 L886.9,770.6 L887.7,771.3 L888.4,771.9 L889.1,772.6 L889.9,773.3 L890.6,773.9 L891.4,774.6 L892.1,775.3 L892.9,775.9 L893.6,776.6 L894.4,777.2 L895.1,777.9 L895.9,778.6 L896.6,779.2 L897.4,779.9 L898.1,780.6 L898.9,781.2 L899.6,781.9 L900.4,782.5 L901.1,783.2 L901.9,783.8 L902.6,784.5 L903.4,785.2 L904.1,785.8 L904.9,786.5 L905.6,787.1 L906.4,787.8 L907.2,788.4 L907.9,789.1 L908.7,789.7 L909.4,790.4 L910.2,791.0 L911.0,791.7 L911.7,792.3 L912.5,793.0 L913.2,793.6 L914.0,794.3 L914.8,794.9 L915.5,795.6 L916.3,796.2 L917.0,796.8 L917.8,797.5 L918.6,798.1 L919.3,798.8 L920.1,799.4 L920.9,800.1 L921.6,800.7 L922.4,801.3 L923.2,802.0 L923.9,802.6 L924.7,803.2 L925.5,803.9 L926.3,804.5 L927.0,805.2 L927.8,805.8 L928.6,806.4 L929.4,807.0 L930.1,807.7 L930.9,808.3 L931.7,808.9 L932.5,809.6 L933.2,810.2 L934.0,810.8 L934.8,811.4 L935.6,812.1 L936.4,812.7 L937.1,813.3 L937.9,813.9 L938.7,814.6 L939.5,815.2 L940.3,815.8 L941.0,816.4 L941.8,817.0 L942.6,817.7 L943.4,818.3 L944.2,818.9 L945.0,819.5 L945.8,820.1 L946.6,820.7 L947.4,821.3 L948.2,822.0 L948.9,822.6 L949.7,823.2 L950.5,823.8 L951.3,824.4 L952.1,825.0 L952.9,825.6 L953.7,826.2 L954.5,826.8 L955.3,827.4 L956.1,828.0 L956.9,828.6 L957.7,829.2 L958.5,829.8 L959.3,830.4 L960.1,831.0 L960.9,831.6 L961.7,832.2 L962.5,832.8 L963.3,833.4 L964.1,834.0 L964.9,834.6 L965.7,835.2 L966.5,835.8 L967.3,836.4 L968.1,837.0 L968.9,837.6 L969.7,838.2 L970.6,838.8 L971.4,839.4 L972.2,840.0 L973.0,840.6 L973.8,841.2 L974.6,841.8 L975.4,842.3 L976.2,842.9 L977.0,843.5 L977.8,844.1 L978.6,844.7 L979.4,845.3 L980.3,845.9 L981.1,846.5 L981.9,847.1 L982.7,847.7 L983.5,848.2 L984.3,848.8 L985.1,849.4 L985.9,850.0 L986.7,850.6 L987.6,851.2 L988.4,851.8 L989.2,852.4 L990.0,852.9 L990.8,853.5 L991.6,854.1 L992.4,854.7 L993.2,855.3 L994.0,855.9 L994.9,856.5 L995.7,857.1 L996.5,857.6 L997.3,858.2 L998.1,858.8 L998.9,859.4 L999.7,860.0 L1000.5,860.6 L1001.4,861.2 L1002.2,861.7 L1003.0,862.3 L1003.8,862.9 L1004.6,863.5 L1005.4,864.1 L1006.2,864.7 L1007.0,865.3 L1007.8,865.9 L1008.7,866.4 L1009.5,867.0 L1010.3,867.6 L1011.1,868.2 L1011.9,868.8 L1012.7,869.4 L1013.5,870.0 L1014.3,870.6 L1015.1,871.2 L1015.9,871.8 L1016.8,872.3 L1017.6,872.9 L1018.4,873.5 L1019.2,874.1 L1020.0,874.7 L1020.8,875.3 L1021.6,875.9 L1022.4,876.5 L1023.2,877.1 L1024.0,877.7 L1024.8,878.3 L1025.6,878.9 L1026.4,879.5 L1027.2,880.1 L1028.0,880.7 L1028.8,881.2 L1029.6,881.8 L1030.4,882.4 L1031.2,883.0 L1032.0,883.6 L1032.8,884.2 L1033.6,884.8 L1034.4,885.4 L1035.2,886.0 L1036.0,886.6 L1036.8,887.2 L1037.6,887.9 L1038.4,888.5 L1039.2,889.1 L1040.0,889.7 L1040.8,890.3 L1041.6,890.9 L1042.4,891.5 L1043.2,892.1 L1044.0,892.7 L1044.8,893.3 L1045.6,893.9 L1046.4,894.5 L1047.1,895.1 L1047.9,895.8 L1048.7,896.4 L1049.5,897.0 L1050.3,897.6 L1051.1,898.2 L1051.9,898.8 L1052.7,899.5 L1053.4,900.1 L1054.2,900.7 L1055.0,901.3 L1055.8,901.9 L1056.6,902.6 L1057.3,903.2 L1058.1,903.8 L1058.9,904.4 L1059.7,905.1 L1060.4,905.7 L1061.2,906.3 L1062.0,907.0 L1062.8,907.6 L1063.5,908.2 L1064.3,908.8 L1065.1,909.5 L1065.8,910.1 L1066.6,910.8 L1067.4,911.4 L1068.1,912.0 L1068.9,912.7 L1069.7,913.3 L1070.4,914.0 L1071.2,914.6 L1072.0,915.2 L1072.7,915.9 L1073.5,916.5 L1074.2,917.2 L1075.0,917.8 L1075.7,918.5 L1076.5,919.1 L1077.2,919.8 L1078.0,920.4 L1078.7,921.1 L1079.5,921.8 L1080.2,922.4 L1081.0,923.1 L1081.7,923.7 L1082.5,924.4 L1083.2,925.1 L1084.0,925.7 L1084.7,926.4 L1085.4,927.1 L1086.2,927.7 L1086.9,928.4 L1087.7,929.1 L1088.4,929.8 L1089.1,930.4 L1089.9,931.1 L1090.6,931.8 L1091.3,932.5 L1092.1,933.1 L1092.8,933.8 L1093.5,934.5 L1094.2,935.2 L1095.0,935.9 L1095.7,936.5 L1096.4,937.2 L1097.2,937.9 L1097.9,938.6 L1098.6,939.3 L1099.3,940.0 L1100.0,940.7 L1100.8,941.4 L1101.5,942.0 L1102.2,942.7 L1102.9,943.4 L1103.7,944.1 L1104.4,944.8 L1105.1,945.5 L1105.8,946.2 L1106.5,946.9 L1107.2,947.6 L1108.0,948.3 L1108.7,949.0 L1109.4,949.7 L1110.1,950.4 L1110.8,951.1 L1111.5,951.8 L1112.2,952.5 L1113.0,953.2 L1113.7,953.9 L1114.4,954.6 L1115.1,955.3 L1115.8,956.0 L1116.5,956.7 L1117.2,957.4 L1117.9,958.1 L1118.7,958.8 L1119.4,959.5 L1120.1,960.2 L1120.8,960.9 L1121.5,961.6 L1122.2,962.3 L1122.9,963.0 L1123.6,963.7 L1124.3,964.4 L1125.0,965.1 L1125.8,965.8 L1126.5,966.5 L1127.2,967.3 L1127.9,968.0 L1128.6,968.7 L1129.3,969.4 L1130.0,970.1 L1130.7,970.8 L1131.4,971.5 L1132.1,972.2 L1132.9,972.9 L1133.6,973.6 L1134.3,974.3 L1135.0,975.0 L1135.7,975.7 L1136.4,976.4 L1137.1,977.1 L1137.8,977.8 L1138.5,978.6 L1139.3,979.3 L1140.0,980.0 L1140.7,980.8 L1141.4,981.5 L1142.1,982.0 L1142.8,982.7 L1143.5,983.6 L1144.3,984.2 L1145.0,984.8 L1145.7,985.9 L1146.4,986.3 L1147.1,986.4 L1147.8,987.4 L1148.6,988.7 L1149.3,989.4 L1150.0,990.0 L1150.7,990.8 L1151.4,991.2 L1152.2,991.7 L1152.9,992.6 L1153.6,993.5 L1154.3,994.5 L1155.1,995.2 L1155.8,995.8 L1156.5,996.5 L1157.2,996.7 L1158.0,997.6 L1158.7,998.8 L1159.5,999.4 L1160.2,999.9 L1160.9,1000.1 L1161.7,1000.6 L1162.4,1001.4 L1163.2,1002.1 L1163.9,1002.7 L1164.7,1003.6 L1165.4,1004.8 L1166.2,1005.7 L1166.9,1006.0 L1167.7,1006.7 L1168.5,1007.1 L1169.2,1006.5 L1170.0,1007.2 L1170.8,1009.5 L1171.5,1010.6 L1172.3,1010.4 L1173.1,1010.4 L1173.9,1010.2 L1174.7,1010.7 L1175.5,1011.6 L1176.3,1012.4 L1177.1,1013.4 L1177.9,1014.0 L1178.7,1015.2 L1179.5,1017.2 L1180.3,1017.6 L1181.2,1017.1 L1182.0,1017.2 L1182.8,1016.9 L1183.6,1017.4 L1184.5,1019.1 L1185.3,1019.9 L1186.2,1019.9 L1187.0,1020.3 L1187.9,1020.5 L1188.7,1020.3 L1189.6,1021.6 L1190.5,1023.1 L1191.3,1023.3 L1192.2,1023.7 L1193.1,1024.1 L1194.0,1024.3 L1194.8,1025.7 L1195.7,1027.1 L1196.6,1027.6 L1197.5,1027.3 L1198.4,1026.3 L1199.3,1025.9 L1200.2,1026.0 L1201.1,1026.3 L1202.0,1027.5 L1202.9,1029.4 L1203.8,1030.1 L1204.8,1029.6 L1205.7,1029.5 L1206.6,1029.3 L1207.5,1029.3 L1208.4,1029.3 L1209.4,1029.6 L1210.3,1031.0 L1211.2,1031.8 L1212.2,1031.8 L1213.1,1031.7 L1214.1,1031.9 L1215.0,1032.6 L1215.9,1033.2 L1216.9,1033.4 L1217.8,1033.5 L1218.8,1034.4 L1219.7,1035.8 L1220.7,1036.6 L1221.7,1036.7 L1222.6,1036.0 L1223.6,1034.8 L1224.5,1034.6 L1225.5,1036.3 L1226.5,1038.4 L1227.4,1037.8 L1228.4,1035.7 L1229.4,1035.9 L1230.4,1036.8 L1231.3,1037.1 L1232.3,1038.0 L1233.3,1038.3 L1234.3,1038.3 L1235.2,1038.0 L1236.2,1037.5 L1237.2,1037.6 L1238.2,1038.7 L1239.2,1039.3 L1240.1,1038.8 L1241.1,1039.5 L1242.1,1040.6 L1243.1,1040.8 L1244.1,1040.8 L1245.1,1040.6 L1246.1,1041.1 L1247.1,1042.5 L1248.0,1043.3 L1249.0,1043.0 L1250.0,1042.6 L1251.0,1041.9 L1252.0,1042.1 L1253.0,1043.0 L1254.0,1043.3 L1255.0,1043.4 L1256.0,1043.8 L1257.0,1044.8 L1258.0,1044.4 L1259.0,1043.1 L1260.0,1043.5 L1261.0,1043.6 L1262.0,1042.9 L1263.0,1042.9 L1264.0,1042.7 L1265.0,1041.8 L1266.0,1041.5 L1267.0,1042.1 L1268.0,1043.1 L1269.0,1044.0 L1270.0,1044.0 L1271.0,1043.4 L1272.0,1042.2 L1273.0,1041.8 L1274.0,1042.9 L1275.0,1043.7 L1276.0,1044.2 L1277.0,1044.5 L1278.0,1043.8 L1279.0,1042.4 L1280.0,1042.0 L1281.0,1043.2 L1282.0,1043.6 L1283.0,1043.3 L1284.0,1043.4 L1285.0,1043.0 L1286.0,1043.8 L1287.0,1045.5 L1288.0,1045.7 L1289.0,1045.3 L1290.0,1045.3 L1291.0,1045.0 L1292.0,1045.5 L1293.0,1046.0 L1294.0,1045.4 L1295.0,1044.8 L1296.0,1044.4 L1297.0,1043.2 L1298.0,1041.8 L1299.0,1042.8 L1300.0,1045.6 L1301.0,1046.2 L1302.0,1045.0 L1303.0,1044.8 L1304.0,1044.9 L1305.0,1045.0 L1306.0,1045.5 L1307.0,1044.6 L1308.0,1043.1 L1309.0,1043.4 L1310.0,1045.3 L1311.0,1046.4 L1312.0,1046.1 L1313.0,1045.3 L1314.0,1045.3 L1315.0,1045.6 L1316.0,1046.4 L1317.0,1047.9 L1318.0,1048.4 L1319.0,1047.3 L1320.0,1046.2 L1321.0,1046.7 L1322.0,1047.2 L1323.0,1046.9 L1324.0,1046.6 L1325.0,1046.1 L1326.0,1045.6 L1327.0,1046.4 L1328.0,1046.9 L1329.0,1046.0 L1330.0,1046.1 L1331.0,1046.3 L1331.9,1045.5 L1332.9,1045.1 L1333.9,1044.9 L1334.9,1044.9 L1335.9,1044.9 L1336.9,1045.2 L1337.9,1045.8 L1338.9,1046.1 L1339.9,1045.6 L1340.9,1045.5 L1341.9,1046.9 L1342.9,1046.7 L1343.9,1045.8 L1344.9,1046.2 L1345.9,1046.6 L1346.9,1046.3 L1347.9,1046.2 L1348.9,1046.8 L1349.9,1047.1 L1350.9,1047.0 L1351.9,1047.4 L1352.9,1047.6 L1353.9,1047.7 L1354.9,1048.1 L1355.9,1047.4 L1356.9,1046.8 L1357.9,1047.3 L1358.9,1047.7 L1359.9,1047.7 L1360.9,1048.5 L1361.9,1049.4 L1362.9,1048.8 L1363.9,1048.1 L1364.9,1048.2 L1365.9,1048.6 L1366.9,1048.0 L1367.9,1047.0 L1368.9,1047.2 L1369.9,1048.2 L1370.9,1048.2 L1371.9,1047.2 L1372.9,1047.5 L1373.9,1048.7 L1374.9,1048.7 L1375.9,1047.7 L1376.9,1048.0 L1377.9,1048.7 L1378.9,1048.3 L1379.9,1047.9 L1380.9,1047.7 L1381.9,1047.7 L1382.9,1048.4 L1383.9,1048.5 L1384.9,1048.0 L1385.9,1048.8 L1386.9,1049.6 L1387.9,1049.7 L1388.9,1049.4 L1389.9,1049.4 L1390.9,1049.5 L1391.9,1049.6 L1392.9,1049.9 L1393.9,1049.3 L1394.9,1048.4 L1395.9,1048.4 L1396.9,1048.7 L1397.9,1048.8 L1398.9,1048.8 L1399.9,1049.3 L1400.8,1050.1 L1401.8,1050.2 L1402.8,1050.0 L1403.8,1050.0 L1404.8,1049.2 L1405.8,1048.6 L1406.8,1049.0 L1407.8,1049.4 L1408.8,1048.8 L1409.8,1049.1 L1410.8,1050.8 L1411.8,1051.7 L1412.8,1050.9 L1413.8,1049.7 L1414.8,1050.0 L1415.8,1050.7 L1416.8,1050.1 L1417.8,1049.4 L1418.8,1049.3 L1419.8,1049.0 L1420.8,1049.9 L1421.8,1051.5 L1422.8,1051.1 L1423.8,1049.6 L1424.8,1049.6 L1425.8,1050.4 L1426.8,1050.7 L1427.8,1050.8 L1428.8,1050.6 L1429.8,1050.7 L1430.8,1050.7 L1431.8,1050.0 L1432.8,1049.4 L1433.8,1049.7 L1434.8,1050.4 L1435.8,1050.9 L1436.8,1051.1 L1437.8,1051.3 L1438.8,1051.3 L1439.8,1051.4 L1440.8,1052.4 L1441.8,1052.9 L1442.8,1052.2 L1443.8,1052.0 L1444.8,1052.4 L1445.8,1052.3 L1446.8,1051.9 L1447.8,1051.5 L1448.8,1051.1 L1449.8,1051.2 L1450.8,1052.2 L1451.8,1052.4 L1452.8,1051.7 L1453.8,1051.8 L1454.8,1052.0 L1455.8,1051.8 L1456.8,1051.6 L1457.8,1051.4 L1458.8,1051.2 L1459.8,1051.7 L1460.8,1052.7 L1461.7,1053.5 L1462.7,1053.3 L1463.7,1052.6 L1464.7,1052.9 L1465.7,1053.7 L1466.7,1053.8 L1467.7,1053.1 L1468.7,1052.4 L1469.7,1052.0 L1470.7,1052.3 L1471.7,1052.6 L1472.7,1053.0 L1473.7,1053.2 L1474.7,1052.6 L1475.7,1052.7 L1476.7,1053.4 L1477.7,1053.8 L1478.7,1053.7 L1479.7,1052.9 L1480.7,1052.7 L1481.7,1053.3 L1482.7,1053.4 L1483.7,1053.2 L1484.7,1053.4 L1485.7,1053.6 L1486.7,1053.3 L1487.7,1053.5 L1488.7,1054.5 L1489.7,1054.9 L1490.7,1054.3 L1491.7,1053.5 L1492.7,1053.3 L1493.7,1053.3 L1494.7,1053.4 L1495.7,1054.0 L1496.7,1054.6 L1497.7,1054.4 L1498.7,1053.9 L1499.7,1053.6 L1500.7,1054.0 L1501.7,1054.2 L1502.7,1054.0 L1503.7,1054.0 L1504.7,1053.9 L1505.7,1053.7 L1506.7,1054.1 L1507.7,1054.8 L1508.7,1055.4 L1509.7,1055.5 L1510.7,1054.8 L1511.7,1054.5 L1512.7,1055.1 L1513.7,1055.2 L1514.7,1054.7 L1515.7,1054.6 L1516.7,1055.4 L1517.7,1055.7 L1518.7,1055.4 L1519.7,1055.3 L1520.7,1055.4 L1521.7,1055.4 L1522.7,1055.4 L1523.7,1055.7 L1524.7,1055.9 L1525.7,1055.7" fill="none" stroke="#1b6fde" stroke-width="5" stroke-linejoin="round" stroke-linecap="butt" shape-rendering="crispEdges"/></g>
<g fill="#000"><text transform="translate(204.0,1085.1) scale(1,1.040)" font-size="64" text-anchor="end">0</text><text transform="translate(204.0,942.2) scale(1,1.040)" font-size="64" text-anchor="end">2</text><text transform="translate(204.0,799.4) scale(1,1.040)" font-size="64" text-anchor="end">4</text><text transform="translate(204.0,656.5) scale(1,1.040)" font-size="64" text-anchor="end">6</text><text transform="translate(204.0,513.7) scale(1,1.040)" font-size="64" text-anchor="end">8</text><text transform="translate(204.0,370.8) scale(1,1.040)" font-size="64" text-anchor="end">10</text><text transform="translate(204.0,227.9) scale(1,1.040)" font-size="64" text-anchor="end">12</text><text transform="translate(204.0,85.1) scale(1,1.040)" font-size="64" text-anchor="end">14</text><text transform="translate(324.5,1151.6) scale(1,1.040)" font-size="64" text-anchor="middle">2600</text><text transform="translate(496.1,1151.6) scale(1,1.040)" font-size="64" text-anchor="middle">2800</text><text transform="translate(667.7,1151.6) scale(1,1.040)" font-size="64" text-anchor="middle">3000</text><text transform="translate(839.3,1151.6) scale(1,1.040)" font-size="64" text-anchor="middle">3200</text><text transform="translate(1010.9,1151.6) scale(1,1.040)" font-size="64" text-anchor="middle">3400</text><text transform="translate(1182.5,1151.6) scale(1,1.040)" font-size="64" text-anchor="middle">3600</text><text transform="translate(1354.1,1151.6) scale(1,1.040)" font-size="64" text-anchor="middle">3800</text><text transform="translate(1525.7,1151.6) scale(1,1.040)" font-size="64" text-anchor="middle">4000</text></g>
<text letter-spacing="0.18" transform="translate(278.8,119.6) scale(1,1.040)" font-size="64">Temperature: 300 K</text>
<text transform="translate(566.0,532.0) scale(1,1.040)" font-size="64" text-anchor="middle">2872</text>
<text transform="translate(604.0,1261.0) scale(1,1.040)" font-size="64">Wavenumber [cm<tspan font-size="43" dy="-25">-1</tspan><tspan dy="25">]</tspan></text>
<text transform="translate(72.0,902.0) rotate(-90) scale(1,1.040)" font-size="64">Absorption coefficient [cm<tspan font-size="43" dy="-25">-1</tspan><tspan dy="25">]</tspan></text>
<rect x="1183.5" y="99.5" width="303" height="286" fill="none" stroke="#000" stroke-width="1.2"/>
<line x1="1192" y1="143.5" x2="1335" y2="143.5" stroke="#505050" stroke-width="5"/>
<text transform="translate(1350.0,165.1) scale(1,1.040)" font-size="64">Y<tspan font-size="43" dy="16.5">0</tspan></text>
<line x1="1192" y1="236.0" x2="1335" y2="236.0" stroke="#ee3c3e" stroke-width="4"/>
<text transform="translate(1350.0,257.6) scale(1,1.040)" font-size="64">Y<tspan font-size="43" dy="16.5">2.5</tspan></text>
<line x1="1192" y1="328.5" x2="1335" y2="328.5" stroke="#1b6fde" stroke-width="5"/>
<text transform="translate(1350.0,350.1) scale(1,1.040)" font-size="64">Y<tspan font-size="43" dy="16.5">3.75</tspan></text>
</svg>
</body></html>
